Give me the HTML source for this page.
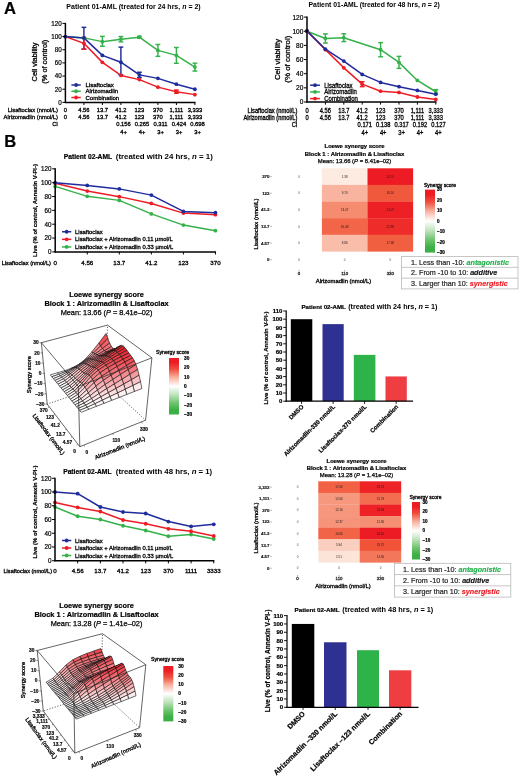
<!DOCTYPE html>
<html><head><meta charset="utf-8"><title>Figure</title><style>html,body{margin:0;padding:0;background:#fff}svg{display:block}</style></head><body>
<svg width="520" height="777" viewBox="0 0 520 777" font-family="'Liberation Sans', Arial, sans-serif">
<style>.tk{stroke:#000;stroke-width:0.22px}</style>
<rect width="520" height="777" fill="#fff"/>
<text x="4.00" y="14.30" font-size="16.6" text-anchor="start" font-weight="bold" font-style="normal" fill="#000" stroke="#000" stroke-width="0.21">A</text>
<text x="4.30" y="147.00" font-size="16.6" text-anchor="start" font-weight="bold" font-style="normal" fill="#000" stroke="#000" stroke-width="0.21">B</text>
<text x="133.50" y="8.50" font-size="7" text-anchor="middle" font-weight="bold">Patient 01-AML (treated for 24 hrs, <tspan font-style="italic">n</tspan> = 2)</text>
<polyline points="65.40,36.57 83.90,37.88 102.40,41.64 120.90,39.20 139.40,37.23 157.90,50.39 176.40,55.40 194.90,67.11" fill="none" stroke="#35b14a" stroke-width="1.5" stroke-linejoin="round"/>
<polyline points="65.40,36.57 83.90,43.35 102.40,62.37 120.90,75.41 139.40,79.62 157.90,87.13 176.40,91.67 194.90,94.63" fill="none" stroke="#ee1c25" stroke-width="1.5" stroke-linejoin="round"/>
<polyline points="65.40,36.57 83.90,37.88 102.40,55.40 120.90,62.24 139.40,74.88 157.90,78.37 176.40,84.16 194.90,89.23" fill="none" stroke="#1f2c9c" stroke-width="1.5" stroke-linejoin="round"/>
<line x1="102.40" y1="36.37" x2="102.40" y2="46.24" stroke="#35b14a" stroke-width="1.45"/>
<line x1="100.00" y1="36.37" x2="104.80" y2="36.37" stroke="#35b14a" stroke-width="1.45"/>
<line x1="100.00" y1="46.24" x2="104.80" y2="46.24" stroke="#35b14a" stroke-width="1.45"/>
<line x1="120.90" y1="36.57" x2="120.90" y2="41.83" stroke="#35b14a" stroke-width="1.45"/>
<line x1="118.50" y1="36.57" x2="123.30" y2="36.57" stroke="#35b14a" stroke-width="1.45"/>
<line x1="118.50" y1="41.83" x2="123.30" y2="41.83" stroke="#35b14a" stroke-width="1.45"/>
<line x1="139.40" y1="36.24" x2="139.40" y2="38.21" stroke="#35b14a" stroke-width="1.45"/>
<line x1="137.00" y1="36.24" x2="141.80" y2="36.24" stroke="#35b14a" stroke-width="1.45"/>
<line x1="137.00" y1="38.21" x2="141.80" y2="38.21" stroke="#35b14a" stroke-width="1.45"/>
<line x1="157.90" y1="44.47" x2="157.90" y2="56.32" stroke="#35b14a" stroke-width="1.45"/>
<line x1="155.50" y1="44.47" x2="160.30" y2="44.47" stroke="#35b14a" stroke-width="1.45"/>
<line x1="155.50" y1="56.32" x2="160.30" y2="56.32" stroke="#35b14a" stroke-width="1.45"/>
<line x1="176.40" y1="47.50" x2="176.40" y2="63.30" stroke="#35b14a" stroke-width="1.45"/>
<line x1="174.00" y1="47.50" x2="178.80" y2="47.50" stroke="#35b14a" stroke-width="1.45"/>
<line x1="174.00" y1="63.30" x2="178.80" y2="63.30" stroke="#35b14a" stroke-width="1.45"/>
<line x1="194.90" y1="63.16" x2="194.90" y2="71.06" stroke="#35b14a" stroke-width="1.45"/>
<line x1="192.50" y1="63.16" x2="197.30" y2="63.16" stroke="#35b14a" stroke-width="1.45"/>
<line x1="192.50" y1="71.06" x2="197.30" y2="71.06" stroke="#35b14a" stroke-width="1.45"/>
<line x1="83.90" y1="27.35" x2="83.90" y2="49.08" stroke="#1f2c9c" stroke-width="1.45"/>
<line x1="81.50" y1="27.35" x2="86.30" y2="27.35" stroke="#1f2c9c" stroke-width="1.45"/>
<line x1="81.50" y1="49.08" x2="86.30" y2="49.08" stroke="#1f2c9c" stroke-width="1.45"/>
<line x1="120.90" y1="47.10" x2="120.90" y2="74.75" stroke="#1f2c9c" stroke-width="1.45"/>
<line x1="118.50" y1="47.10" x2="123.30" y2="47.10" stroke="#1f2c9c" stroke-width="1.45"/>
<line x1="118.50" y1="74.75" x2="123.30" y2="74.75" stroke="#1f2c9c" stroke-width="1.45"/>
<line x1="139.40" y1="72.25" x2="139.40" y2="77.52" stroke="#1f2c9c" stroke-width="1.45"/>
<line x1="137.00" y1="72.25" x2="141.80" y2="72.25" stroke="#1f2c9c" stroke-width="1.45"/>
<line x1="137.00" y1="77.52" x2="141.80" y2="77.52" stroke="#1f2c9c" stroke-width="1.45"/>
<line x1="83.90" y1="37.42" x2="83.90" y2="49.27" stroke="#ee1c25" stroke-width="1.45"/>
<line x1="81.50" y1="37.42" x2="86.30" y2="37.42" stroke="#ee1c25" stroke-width="1.45"/>
<line x1="81.50" y1="49.27" x2="86.30" y2="49.27" stroke="#ee1c25" stroke-width="1.45"/>
<line x1="176.40" y1="90.02" x2="176.40" y2="93.31" stroke="#ee1c25" stroke-width="1.45"/>
<line x1="174.00" y1="90.02" x2="178.80" y2="90.02" stroke="#ee1c25" stroke-width="1.45"/>
<line x1="174.00" y1="93.31" x2="178.80" y2="93.31" stroke="#ee1c25" stroke-width="1.45"/>
<circle cx="65.40" cy="36.57" r="1.9" fill="#35b14a"/>
<circle cx="83.90" cy="37.88" r="1.9" fill="#35b14a"/>
<circle cx="102.40" cy="41.64" r="1.9" fill="#35b14a"/>
<circle cx="120.90" cy="39.20" r="1.9" fill="#35b14a"/>
<circle cx="139.40" cy="37.23" r="1.9" fill="#35b14a"/>
<circle cx="157.90" cy="50.39" r="1.9" fill="#35b14a"/>
<circle cx="176.40" cy="55.40" r="1.9" fill="#35b14a"/>
<circle cx="194.90" cy="67.11" r="1.9" fill="#35b14a"/>
<circle cx="65.40" cy="36.57" r="1.9" fill="#ee1c25"/>
<circle cx="83.90" cy="43.35" r="1.9" fill="#ee1c25"/>
<circle cx="102.40" cy="62.37" r="1.9" fill="#ee1c25"/>
<circle cx="120.90" cy="75.41" r="1.9" fill="#ee1c25"/>
<circle cx="139.40" cy="79.62" r="1.9" fill="#ee1c25"/>
<circle cx="157.90" cy="87.13" r="1.9" fill="#ee1c25"/>
<circle cx="176.40" cy="91.67" r="1.9" fill="#ee1c25"/>
<circle cx="194.90" cy="94.63" r="1.9" fill="#ee1c25"/>
<circle cx="65.40" cy="36.57" r="1.9" fill="#1f2c9c"/>
<circle cx="83.90" cy="37.88" r="1.9" fill="#1f2c9c"/>
<circle cx="102.40" cy="55.40" r="1.9" fill="#1f2c9c"/>
<circle cx="120.90" cy="62.24" r="1.9" fill="#1f2c9c"/>
<circle cx="139.40" cy="74.88" r="1.9" fill="#1f2c9c"/>
<circle cx="157.90" cy="78.37" r="1.9" fill="#1f2c9c"/>
<circle cx="176.40" cy="84.16" r="1.9" fill="#1f2c9c"/>
<circle cx="194.90" cy="89.23" r="1.9" fill="#1f2c9c"/>
<line x1="65.40" y1="22.90" x2="65.40" y2="103.00" stroke="#000" stroke-width="1.5"/>
<line x1="64.80" y1="102.40" x2="195.50" y2="102.40" stroke="#000" stroke-width="1.5"/>
<line x1="62.40" y1="102.40" x2="65.40" y2="102.40" stroke="#000" stroke-width="1.0"/>
<text transform="translate(61.80 104.74) scale(0.9 1)" font-size="7.0" text-anchor="end" font-weight="normal" font-style="normal" fill="#000" class="tk">0</text>
<line x1="62.40" y1="89.23" x2="65.40" y2="89.23" stroke="#000" stroke-width="1.0"/>
<text transform="translate(61.80 91.57) scale(0.9 1)" font-size="7.0" text-anchor="end" font-weight="normal" font-style="normal" fill="#000" class="tk">20</text>
<line x1="62.40" y1="76.07" x2="65.40" y2="76.07" stroke="#000" stroke-width="1.0"/>
<text transform="translate(61.80 78.41) scale(0.9 1)" font-size="7.0" text-anchor="end" font-weight="normal" font-style="normal" fill="#000" class="tk">40</text>
<line x1="62.40" y1="62.90" x2="65.40" y2="62.90" stroke="#000" stroke-width="1.0"/>
<text transform="translate(61.80 65.24) scale(0.9 1)" font-size="7.0" text-anchor="end" font-weight="normal" font-style="normal" fill="#000" class="tk">60</text>
<line x1="62.40" y1="49.73" x2="65.40" y2="49.73" stroke="#000" stroke-width="1.0"/>
<text transform="translate(61.80 52.07) scale(0.9 1)" font-size="7.0" text-anchor="end" font-weight="normal" font-style="normal" fill="#000" class="tk">80</text>
<line x1="62.40" y1="36.57" x2="65.40" y2="36.57" stroke="#000" stroke-width="1.0"/>
<text transform="translate(61.80 38.91) scale(0.9 1)" font-size="7.0" text-anchor="end" font-weight="normal" font-style="normal" fill="#000" class="tk">100</text>
<line x1="62.40" y1="23.40" x2="65.40" y2="23.40" stroke="#000" stroke-width="1.0"/>
<text transform="translate(61.80 25.74) scale(0.9 1)" font-size="7.0" text-anchor="end" font-weight="normal" font-style="normal" fill="#000" class="tk">120</text>
<line x1="83.90" y1="102.40" x2="83.90" y2="105.00" stroke="#000" stroke-width="1.0"/>
<line x1="102.40" y1="102.40" x2="102.40" y2="105.00" stroke="#000" stroke-width="1.0"/>
<line x1="120.90" y1="102.40" x2="120.90" y2="105.00" stroke="#000" stroke-width="1.0"/>
<line x1="139.40" y1="102.40" x2="139.40" y2="105.00" stroke="#000" stroke-width="1.0"/>
<line x1="157.90" y1="102.40" x2="157.90" y2="105.00" stroke="#000" stroke-width="1.0"/>
<line x1="176.40" y1="102.40" x2="176.40" y2="105.00" stroke="#000" stroke-width="1.0"/>
<line x1="194.90" y1="102.40" x2="194.90" y2="105.00" stroke="#000" stroke-width="1.0"/>
<text x="37.40" y="62.00" font-size="7.35" text-anchor="middle" font-weight="normal" font-style="normal" fill="#000" transform="rotate(-90 37.40 62.00)" stroke="#000" stroke-width="0.30">Cell viability</text>
<text x="46.90" y="61.70" font-size="7.4" text-anchor="middle" font-weight="normal" font-style="normal" fill="#000" transform="rotate(-90 46.90 61.70)" stroke="#000" stroke-width="0.30">(% of control)</text>
<line x1="71.40" y1="85.00" x2="80.80" y2="85.00" stroke="#1f2c9c" stroke-width="1.5"/>
<circle cx="76.10" cy="85.00" r="1.9" fill="#1f2c9c"/>
<text x="85.50" y="87.16" font-size="6" text-anchor="start" font-weight="normal" font-style="normal" fill="#000" stroke="#000" stroke-width="0.30">Lisaftoclax</text>
<line x1="71.40" y1="91.25" x2="80.80" y2="91.25" stroke="#35b14a" stroke-width="1.5"/>
<circle cx="76.10" cy="91.25" r="1.9" fill="#35b14a"/>
<text x="85.50" y="93.41" font-size="6" text-anchor="start" font-weight="normal" font-style="normal" fill="#000" stroke="#000" stroke-width="0.30">Alrizomadlin</text>
<line x1="71.40" y1="97.50" x2="80.80" y2="97.50" stroke="#ee1c25" stroke-width="1.5"/>
<circle cx="76.10" cy="97.50" r="1.9" fill="#ee1c25"/>
<text x="85.50" y="99.66" font-size="6" text-anchor="start" font-weight="normal" font-style="normal" fill="#000" stroke="#000" stroke-width="0.30">Combination</text>
<text x="58.00" y="111.80" font-size="5.8" text-anchor="end" font-weight="normal" font-style="normal" fill="#000" stroke="#000" stroke-width="0.30">Lisaftoclax (nmol/L)</text>
<text x="58.00" y="119.00" font-size="5.8" text-anchor="end" font-weight="normal" font-style="normal" fill="#000" stroke="#000" stroke-width="0.30">Alrizomadlin (nmol/L)</text>
<text x="58.00" y="126.20" font-size="5.8" text-anchor="end" font-weight="normal" font-style="normal" fill="#000" stroke="#000" stroke-width="0.30">CI</text>
<text x="65.40" y="111.80" font-size="5.8" text-anchor="middle" font-weight="normal" font-style="normal" fill="#000" stroke="#000" stroke-width="0.30">0</text>
<text x="65.40" y="119.00" font-size="5.8" text-anchor="middle" font-weight="normal" font-style="normal" fill="#000" stroke="#000" stroke-width="0.30">0</text>
<text x="83.90" y="111.80" font-size="5.8" text-anchor="middle" font-weight="normal" font-style="normal" fill="#000" stroke="#000" stroke-width="0.30">4.56</text>
<text x="83.90" y="119.00" font-size="5.8" text-anchor="middle" font-weight="normal" font-style="normal" fill="#000" stroke="#000" stroke-width="0.30">4.56</text>
<text x="102.40" y="111.80" font-size="5.8" text-anchor="middle" font-weight="normal" font-style="normal" fill="#000" stroke="#000" stroke-width="0.30">13.7</text>
<text x="102.40" y="119.00" font-size="5.8" text-anchor="middle" font-weight="normal" font-style="normal" fill="#000" stroke="#000" stroke-width="0.30">13.7</text>
<text x="120.90" y="111.80" font-size="5.8" text-anchor="middle" font-weight="normal" font-style="normal" fill="#000" stroke="#000" stroke-width="0.30">41.2</text>
<text x="120.90" y="119.00" font-size="5.8" text-anchor="middle" font-weight="normal" font-style="normal" fill="#000" stroke="#000" stroke-width="0.30">41.2</text>
<text x="139.40" y="111.80" font-size="5.8" text-anchor="middle" font-weight="normal" font-style="normal" fill="#000" stroke="#000" stroke-width="0.30">123</text>
<text x="139.40" y="119.00" font-size="5.8" text-anchor="middle" font-weight="normal" font-style="normal" fill="#000" stroke="#000" stroke-width="0.30">123</text>
<text x="157.90" y="111.80" font-size="5.8" text-anchor="middle" font-weight="normal" font-style="normal" fill="#000" stroke="#000" stroke-width="0.30">370</text>
<text x="157.90" y="119.00" font-size="5.8" text-anchor="middle" font-weight="normal" font-style="normal" fill="#000" stroke="#000" stroke-width="0.30">370</text>
<text x="176.40" y="111.80" font-size="5.8" text-anchor="middle" font-weight="normal" font-style="normal" fill="#000" stroke="#000" stroke-width="0.30">1,111</text>
<text x="176.40" y="119.00" font-size="5.8" text-anchor="middle" font-weight="normal" font-style="normal" fill="#000" stroke="#000" stroke-width="0.30">1,111</text>
<text x="194.90" y="111.80" font-size="5.8" text-anchor="middle" font-weight="normal" font-style="normal" fill="#000" stroke="#000" stroke-width="0.30">3,333</text>
<text x="194.90" y="119.00" font-size="5.8" text-anchor="middle" font-weight="normal" font-style="normal" fill="#000" stroke="#000" stroke-width="0.30">3,333</text>
<text x="123.50" y="126.20" font-size="5.8" text-anchor="middle" font-weight="normal" font-style="normal" fill="#000" stroke="#000" stroke-width="0.30">0.156</text>
<text x="123.50" y="133.60" font-size="5.8" text-anchor="middle" font-weight="normal" font-style="normal" fill="#000" stroke="#000" stroke-width="0.30">4+</text>
<text x="142.00" y="126.20" font-size="5.8" text-anchor="middle" font-weight="normal" font-style="normal" fill="#000" stroke="#000" stroke-width="0.30">0.265</text>
<text x="142.00" y="133.60" font-size="5.8" text-anchor="middle" font-weight="normal" font-style="normal" fill="#000" stroke="#000" stroke-width="0.30">4+</text>
<text x="160.50" y="126.20" font-size="5.8" text-anchor="middle" font-weight="normal" font-style="normal" fill="#000" stroke="#000" stroke-width="0.30">0.311</text>
<text x="160.50" y="133.60" font-size="5.8" text-anchor="middle" font-weight="normal" font-style="normal" fill="#000" stroke="#000" stroke-width="0.30">3+</text>
<text x="179.00" y="126.20" font-size="5.8" text-anchor="middle" font-weight="normal" font-style="normal" fill="#000" stroke="#000" stroke-width="0.30">0.424</text>
<text x="179.00" y="133.60" font-size="5.8" text-anchor="middle" font-weight="normal" font-style="normal" fill="#000" stroke="#000" stroke-width="0.30">3+</text>
<text x="197.50" y="126.20" font-size="5.8" text-anchor="middle" font-weight="normal" font-style="normal" fill="#000" stroke="#000" stroke-width="0.30">0.698</text>
<text x="197.50" y="133.60" font-size="5.8" text-anchor="middle" font-weight="normal" font-style="normal" fill="#000" stroke="#000" stroke-width="0.30">3+</text>
<text x="374.20" y="7.00" font-size="6.85" text-anchor="middle" font-weight="bold">Patient 01-AML (treated for 48 hrs, <tspan font-style="italic">n</tspan> = 2)</text>
<polyline points="307.00,31.25 325.40,38.47 343.80,37.69 380.60,49.72 399.00,62.38 417.40,80.42 435.80,91.74" fill="none" stroke="#35b14a" stroke-width="1.5" stroke-linejoin="round"/>
<polyline points="307.00,31.25 325.40,49.64 343.80,67.83 362.20,84.17 380.60,91.18 399.00,92.45 417.40,96.98 435.80,99.52" fill="none" stroke="#ee1c25" stroke-width="1.5" stroke-linejoin="round"/>
<polyline points="307.00,30.90 325.40,49.22 343.80,61.04 362.20,74.41 380.60,82.40 399.00,86.65 417.40,90.47 435.80,94.22" fill="none" stroke="#1f2c9c" stroke-width="1.5" stroke-linejoin="round"/>
<line x1="325.40" y1="33.87" x2="325.40" y2="43.07" stroke="#35b14a" stroke-width="1.45"/>
<line x1="323.00" y1="33.87" x2="327.80" y2="33.87" stroke="#35b14a" stroke-width="1.45"/>
<line x1="323.00" y1="43.07" x2="327.80" y2="43.07" stroke="#35b14a" stroke-width="1.45"/>
<line x1="343.80" y1="33.80" x2="343.80" y2="41.58" stroke="#35b14a" stroke-width="1.45"/>
<line x1="341.40" y1="33.80" x2="346.20" y2="33.80" stroke="#35b14a" stroke-width="1.45"/>
<line x1="341.40" y1="41.58" x2="346.20" y2="41.58" stroke="#35b14a" stroke-width="1.45"/>
<line x1="380.60" y1="42.64" x2="380.60" y2="56.79" stroke="#35b14a" stroke-width="1.45"/>
<line x1="378.20" y1="42.64" x2="383.00" y2="42.64" stroke="#35b14a" stroke-width="1.45"/>
<line x1="378.20" y1="56.79" x2="383.00" y2="56.79" stroke="#35b14a" stroke-width="1.45"/>
<line x1="399.00" y1="56.37" x2="399.00" y2="68.39" stroke="#35b14a" stroke-width="1.45"/>
<line x1="396.60" y1="56.37" x2="401.40" y2="56.37" stroke="#35b14a" stroke-width="1.45"/>
<line x1="396.60" y1="68.39" x2="401.40" y2="68.39" stroke="#35b14a" stroke-width="1.45"/>
<line x1="435.80" y1="89.62" x2="435.80" y2="93.86" stroke="#35b14a" stroke-width="1.45"/>
<line x1="433.40" y1="89.62" x2="438.20" y2="89.62" stroke="#35b14a" stroke-width="1.45"/>
<line x1="433.40" y1="93.86" x2="438.20" y2="93.86" stroke="#35b14a" stroke-width="1.45"/>
<line x1="362.20" y1="81.69" x2="362.20" y2="86.65" stroke="#ee1c25" stroke-width="1.45"/>
<line x1="359.80" y1="81.69" x2="364.60" y2="81.69" stroke="#ee1c25" stroke-width="1.45"/>
<line x1="359.80" y1="86.65" x2="364.60" y2="86.65" stroke="#ee1c25" stroke-width="1.45"/>
<circle cx="307.00" cy="31.25" r="1.9" fill="#35b14a"/>
<circle cx="325.40" cy="38.47" r="1.9" fill="#35b14a"/>
<circle cx="343.80" cy="37.69" r="1.9" fill="#35b14a"/>
<circle cx="380.60" cy="49.72" r="1.9" fill="#35b14a"/>
<circle cx="399.00" cy="62.38" r="1.9" fill="#35b14a"/>
<circle cx="417.40" cy="80.42" r="1.9" fill="#35b14a"/>
<circle cx="435.80" cy="91.74" r="1.9" fill="#35b14a"/>
<circle cx="307.00" cy="31.25" r="1.9" fill="#ee1c25"/>
<circle cx="325.40" cy="49.64" r="1.9" fill="#ee1c25"/>
<circle cx="343.80" cy="67.83" r="1.9" fill="#ee1c25"/>
<circle cx="362.20" cy="84.17" r="1.9" fill="#ee1c25"/>
<circle cx="380.60" cy="91.18" r="1.9" fill="#ee1c25"/>
<circle cx="399.00" cy="92.45" r="1.9" fill="#ee1c25"/>
<circle cx="417.40" cy="96.98" r="1.9" fill="#ee1c25"/>
<circle cx="435.80" cy="99.52" r="1.9" fill="#ee1c25"/>
<circle cx="307.00" cy="30.90" r="1.9" fill="#1f2c9c"/>
<circle cx="325.40" cy="49.22" r="1.9" fill="#1f2c9c"/>
<circle cx="343.80" cy="61.04" r="1.9" fill="#1f2c9c"/>
<circle cx="362.20" cy="74.41" r="1.9" fill="#1f2c9c"/>
<circle cx="380.60" cy="82.40" r="1.9" fill="#1f2c9c"/>
<circle cx="399.00" cy="86.65" r="1.9" fill="#1f2c9c"/>
<circle cx="417.40" cy="90.47" r="1.9" fill="#1f2c9c"/>
<circle cx="435.80" cy="94.22" r="1.9" fill="#1f2c9c"/>
<line x1="307.00" y1="16.60" x2="307.00" y2="102.60" stroke="#000" stroke-width="1.5"/>
<line x1="306.40" y1="102.00" x2="436.40" y2="102.00" stroke="#000" stroke-width="1.5"/>
<line x1="304.00" y1="102.00" x2="307.00" y2="102.00" stroke="#000" stroke-width="1.0"/>
<text transform="translate(303.40 104.45) scale(0.9 1)" font-size="7.3" text-anchor="end" font-weight="normal" font-style="normal" fill="#000" class="tk">0</text>
<line x1="304.00" y1="87.85" x2="307.00" y2="87.85" stroke="#000" stroke-width="1.0"/>
<text transform="translate(303.40 90.30) scale(0.9 1)" font-size="7.3" text-anchor="end" font-weight="normal" font-style="normal" fill="#000" class="tk">20</text>
<line x1="304.00" y1="73.70" x2="307.00" y2="73.70" stroke="#000" stroke-width="1.0"/>
<text transform="translate(303.40 76.15) scale(0.9 1)" font-size="7.3" text-anchor="end" font-weight="normal" font-style="normal" fill="#000" class="tk">40</text>
<line x1="304.00" y1="59.55" x2="307.00" y2="59.55" stroke="#000" stroke-width="1.0"/>
<text transform="translate(303.40 62.00) scale(0.9 1)" font-size="7.3" text-anchor="end" font-weight="normal" font-style="normal" fill="#000" class="tk">60</text>
<line x1="304.00" y1="45.40" x2="307.00" y2="45.40" stroke="#000" stroke-width="1.0"/>
<text transform="translate(303.40 47.85) scale(0.9 1)" font-size="7.3" text-anchor="end" font-weight="normal" font-style="normal" fill="#000" class="tk">80</text>
<line x1="304.00" y1="31.25" x2="307.00" y2="31.25" stroke="#000" stroke-width="1.0"/>
<text transform="translate(303.40 33.70) scale(0.9 1)" font-size="7.3" text-anchor="end" font-weight="normal" font-style="normal" fill="#000" class="tk">100</text>
<line x1="304.00" y1="17.10" x2="307.00" y2="17.10" stroke="#000" stroke-width="1.0"/>
<text transform="translate(303.40 19.55) scale(0.9 1)" font-size="7.3" text-anchor="end" font-weight="normal" font-style="normal" fill="#000" class="tk">120</text>
<line x1="325.40" y1="102.00" x2="325.40" y2="104.60" stroke="#000" stroke-width="1.0"/>
<line x1="343.80" y1="102.00" x2="343.80" y2="104.60" stroke="#000" stroke-width="1.0"/>
<line x1="362.20" y1="102.00" x2="362.20" y2="104.60" stroke="#000" stroke-width="1.0"/>
<line x1="380.60" y1="102.00" x2="380.60" y2="104.60" stroke="#000" stroke-width="1.0"/>
<line x1="399.00" y1="102.00" x2="399.00" y2="104.60" stroke="#000" stroke-width="1.0"/>
<line x1="417.40" y1="102.00" x2="417.40" y2="104.60" stroke="#000" stroke-width="1.0"/>
<line x1="435.80" y1="102.00" x2="435.80" y2="104.60" stroke="#000" stroke-width="1.0"/>
<text x="280.00" y="59.50" font-size="7.8" text-anchor="middle" font-weight="normal" font-style="normal" fill="#000" transform="rotate(-90 280.00 59.50)" stroke="#000" stroke-width="0.30">Cell viability</text>
<text x="289.90" y="59.20" font-size="7.9" text-anchor="middle" font-weight="normal" font-style="normal" fill="#000" transform="rotate(-90 289.90 59.20)" stroke="#000" stroke-width="0.30">(% of control)</text>
<line x1="310.10" y1="85.20" x2="319.90" y2="85.20" stroke="#1f2c9c" stroke-width="1.5"/>
<circle cx="315.00" cy="85.20" r="1.9" fill="#1f2c9c"/>
<text transform="translate(324.20 87.72) scale(0.86 1)" font-size="7.0" text-anchor="start" font-weight="normal" font-style="normal" fill="#000" stroke="#000" stroke-width="0.30">Lisaftoclax</text>
<line x1="310.10" y1="91.90" x2="319.90" y2="91.90" stroke="#35b14a" stroke-width="1.5"/>
<circle cx="315.00" cy="91.90" r="1.9" fill="#35b14a"/>
<text transform="translate(324.20 94.42) scale(0.86 1)" font-size="7.0" text-anchor="start" font-weight="normal" font-style="normal" fill="#000" stroke="#000" stroke-width="0.30">Alrizomadlin</text>
<line x1="310.10" y1="98.60" x2="319.90" y2="98.60" stroke="#ee1c25" stroke-width="1.5"/>
<circle cx="315.00" cy="98.60" r="1.9" fill="#ee1c25"/>
<text transform="translate(324.20 101.12) scale(0.86 1)" font-size="7.0" text-anchor="start" font-weight="normal" font-style="normal" fill="#000" stroke="#000" stroke-width="0.30">Combination</text>
<text transform="translate(297.40 112.90) scale(0.9 1)" font-size="6.4" text-anchor="end" font-weight="normal" font-style="normal" fill="#000" stroke="#000" stroke-width="0.30">Lisaftoclax (nmol/L)</text>
<text transform="translate(297.40 120.20) scale(0.9 1)" font-size="6.4" text-anchor="end" font-weight="normal" font-style="normal" fill="#000" stroke="#000" stroke-width="0.30">Alrizomadlin (nmol/L)</text>
<text transform="translate(297.40 127.40) scale(0.9 1)" font-size="6.4" text-anchor="end" font-weight="normal" font-style="normal" fill="#000" stroke="#000" stroke-width="0.30">CI</text>
<text transform="translate(307.00 112.90) scale(0.9 1)" font-size="6.4" text-anchor="middle" font-weight="normal" font-style="normal" fill="#000" stroke="#000" stroke-width="0.30">0</text>
<text transform="translate(307.00 120.20) scale(0.9 1)" font-size="6.4" text-anchor="middle" font-weight="normal" font-style="normal" fill="#000" stroke="#000" stroke-width="0.30">0</text>
<text transform="translate(325.40 112.90) scale(0.9 1)" font-size="6.4" text-anchor="middle" font-weight="normal" font-style="normal" fill="#000" stroke="#000" stroke-width="0.30">4.56</text>
<text transform="translate(325.40 120.20) scale(0.9 1)" font-size="6.4" text-anchor="middle" font-weight="normal" font-style="normal" fill="#000" stroke="#000" stroke-width="0.30">4.56</text>
<text transform="translate(343.80 112.90) scale(0.9 1)" font-size="6.4" text-anchor="middle" font-weight="normal" font-style="normal" fill="#000" stroke="#000" stroke-width="0.30">13.7</text>
<text transform="translate(343.80 120.20) scale(0.9 1)" font-size="6.4" text-anchor="middle" font-weight="normal" font-style="normal" fill="#000" stroke="#000" stroke-width="0.30">13.7</text>
<text transform="translate(362.20 112.90) scale(0.9 1)" font-size="6.4" text-anchor="middle" font-weight="normal" font-style="normal" fill="#000" stroke="#000" stroke-width="0.30">41.2</text>
<text transform="translate(362.20 120.20) scale(0.9 1)" font-size="6.4" text-anchor="middle" font-weight="normal" font-style="normal" fill="#000" stroke="#000" stroke-width="0.30">41.2</text>
<text transform="translate(380.60 112.90) scale(0.9 1)" font-size="6.4" text-anchor="middle" font-weight="normal" font-style="normal" fill="#000" stroke="#000" stroke-width="0.30">123</text>
<text transform="translate(380.60 120.20) scale(0.9 1)" font-size="6.4" text-anchor="middle" font-weight="normal" font-style="normal" fill="#000" stroke="#000" stroke-width="0.30">123</text>
<text transform="translate(399.00 112.90) scale(0.9 1)" font-size="6.4" text-anchor="middle" font-weight="normal" font-style="normal" fill="#000" stroke="#000" stroke-width="0.30">370</text>
<text transform="translate(399.00 120.20) scale(0.9 1)" font-size="6.4" text-anchor="middle" font-weight="normal" font-style="normal" fill="#000" stroke="#000" stroke-width="0.30">370</text>
<text transform="translate(417.40 112.90) scale(0.9 1)" font-size="6.4" text-anchor="middle" font-weight="normal" font-style="normal" fill="#000" stroke="#000" stroke-width="0.30">1,111</text>
<text transform="translate(417.40 120.20) scale(0.9 1)" font-size="6.4" text-anchor="middle" font-weight="normal" font-style="normal" fill="#000" stroke="#000" stroke-width="0.30">1,111</text>
<text transform="translate(435.80 112.90) scale(0.9 1)" font-size="6.4" text-anchor="middle" font-weight="normal" font-style="normal" fill="#000" stroke="#000" stroke-width="0.30">3,333</text>
<text transform="translate(435.80 120.20) scale(0.9 1)" font-size="6.4" text-anchor="middle" font-weight="normal" font-style="normal" fill="#000" stroke="#000" stroke-width="0.30">3,333</text>
<text transform="translate(364.80 127.40) scale(0.9 1)" font-size="6.4" text-anchor="middle" font-weight="normal" font-style="normal" fill="#000" stroke="#000" stroke-width="0.30">0.171</text>
<text transform="translate(364.80 134.80) scale(0.9 1)" font-size="6.4" text-anchor="middle" font-weight="normal" font-style="normal" fill="#000" stroke="#000" stroke-width="0.30">4+</text>
<text transform="translate(383.20 127.40) scale(0.9 1)" font-size="6.4" text-anchor="middle" font-weight="normal" font-style="normal" fill="#000" stroke="#000" stroke-width="0.30">0.138</text>
<text transform="translate(383.20 134.80) scale(0.9 1)" font-size="6.4" text-anchor="middle" font-weight="normal" font-style="normal" fill="#000" stroke="#000" stroke-width="0.30">4+</text>
<text transform="translate(401.60 127.40) scale(0.9 1)" font-size="6.4" text-anchor="middle" font-weight="normal" font-style="normal" fill="#000" stroke="#000" stroke-width="0.30">0.317</text>
<text transform="translate(401.60 134.80) scale(0.9 1)" font-size="6.4" text-anchor="middle" font-weight="normal" font-style="normal" fill="#000" stroke="#000" stroke-width="0.30">3+</text>
<text transform="translate(420.00 127.40) scale(0.9 1)" font-size="6.4" text-anchor="middle" font-weight="normal" font-style="normal" fill="#000" stroke="#000" stroke-width="0.30">0.192</text>
<text transform="translate(420.00 134.80) scale(0.9 1)" font-size="6.4" text-anchor="middle" font-weight="normal" font-style="normal" fill="#000" stroke="#000" stroke-width="0.30">4+</text>
<text transform="translate(438.40 127.40) scale(0.9 1)" font-size="6.4" text-anchor="middle" font-weight="normal" font-style="normal" fill="#000" stroke="#000" stroke-width="0.30">0.127</text>
<text transform="translate(438.40 134.80) scale(0.9 1)" font-size="6.4" text-anchor="middle" font-weight="normal" font-style="normal" fill="#000" stroke="#000" stroke-width="0.30">4+</text>
<text x="63.80" y="159.10" font-size="6.7" text-anchor="start" font-weight="bold" font-style="normal" fill="#000" stroke="#000" stroke-width="0.21">Patient 02-AML</text>
<text x="115.80" y="159.10" font-weight="bold" font-size="7.85">(treated with 24 hrs, <tspan font-style="italic">n</tspan> = 1)</text>
<polyline points="55.20,186.39 87.25,196.36 119.30,200.38 151.35,213.88 183.40,225.10 215.45,230.64" fill="none" stroke="#35b14a" stroke-width="1.5" stroke-linejoin="round"/>
<polyline points="55.20,183.34 87.25,191.10 119.30,196.64 151.35,203.43 183.40,213.12 215.45,214.64" fill="none" stroke="#ee1c25" stroke-width="1.5" stroke-linejoin="round"/>
<polyline points="55.20,182.65 87.25,185.42 119.30,188.88 151.35,195.12 183.40,211.39 215.45,212.64" fill="none" stroke="#1f2c9c" stroke-width="1.5" stroke-linejoin="round"/>
<circle cx="55.20" cy="186.39" r="1.9" fill="#35b14a"/>
<circle cx="87.25" cy="196.36" r="1.9" fill="#35b14a"/>
<circle cx="119.30" cy="200.38" r="1.9" fill="#35b14a"/>
<circle cx="151.35" cy="213.88" r="1.9" fill="#35b14a"/>
<circle cx="183.40" cy="225.10" r="1.9" fill="#35b14a"/>
<circle cx="215.45" cy="230.64" r="1.9" fill="#35b14a"/>
<circle cx="55.20" cy="183.34" r="1.9" fill="#ee1c25"/>
<circle cx="87.25" cy="191.10" r="1.9" fill="#ee1c25"/>
<circle cx="119.30" cy="196.64" r="1.9" fill="#ee1c25"/>
<circle cx="151.35" cy="203.43" r="1.9" fill="#ee1c25"/>
<circle cx="183.40" cy="213.12" r="1.9" fill="#ee1c25"/>
<circle cx="215.45" cy="214.64" r="1.9" fill="#ee1c25"/>
<circle cx="55.20" cy="182.65" r="1.9" fill="#1f2c9c"/>
<circle cx="87.25" cy="185.42" r="1.9" fill="#1f2c9c"/>
<circle cx="119.30" cy="188.88" r="1.9" fill="#1f2c9c"/>
<circle cx="151.35" cy="195.12" r="1.9" fill="#1f2c9c"/>
<circle cx="183.40" cy="211.39" r="1.9" fill="#1f2c9c"/>
<circle cx="215.45" cy="212.64" r="1.9" fill="#1f2c9c"/>
<line x1="55.20" y1="168.30" x2="55.20" y2="252.50" stroke="#000" stroke-width="1.5"/>
<line x1="54.60" y1="251.90" x2="216.05" y2="251.90" stroke="#000" stroke-width="1.5"/>
<line x1="52.20" y1="251.90" x2="55.20" y2="251.90" stroke="#000" stroke-width="1.0"/>
<text transform="translate(51.60 254.24) scale(0.9 1)" font-size="7.0" text-anchor="end" font-weight="normal" font-style="normal" fill="#000" class="tk">0</text>
<line x1="52.20" y1="238.05" x2="55.20" y2="238.05" stroke="#000" stroke-width="1.0"/>
<text transform="translate(51.60 240.39) scale(0.9 1)" font-size="7.0" text-anchor="end" font-weight="normal" font-style="normal" fill="#000" class="tk">20</text>
<line x1="52.20" y1="224.20" x2="55.20" y2="224.20" stroke="#000" stroke-width="1.0"/>
<text transform="translate(51.60 226.54) scale(0.9 1)" font-size="7.0" text-anchor="end" font-weight="normal" font-style="normal" fill="#000" class="tk">40</text>
<line x1="52.20" y1="210.35" x2="55.20" y2="210.35" stroke="#000" stroke-width="1.0"/>
<text transform="translate(51.60 212.69) scale(0.9 1)" font-size="7.0" text-anchor="end" font-weight="normal" font-style="normal" fill="#000" class="tk">60</text>
<line x1="52.20" y1="196.50" x2="55.20" y2="196.50" stroke="#000" stroke-width="1.0"/>
<text transform="translate(51.60 198.84) scale(0.9 1)" font-size="7.0" text-anchor="end" font-weight="normal" font-style="normal" fill="#000" class="tk">80</text>
<line x1="52.20" y1="182.65" x2="55.20" y2="182.65" stroke="#000" stroke-width="1.0"/>
<text transform="translate(51.60 184.99) scale(0.9 1)" font-size="7.0" text-anchor="end" font-weight="normal" font-style="normal" fill="#000" class="tk">100</text>
<line x1="52.20" y1="168.80" x2="55.20" y2="168.80" stroke="#000" stroke-width="1.0"/>
<text transform="translate(51.60 171.14) scale(0.9 1)" font-size="7.0" text-anchor="end" font-weight="normal" font-style="normal" fill="#000" class="tk">120</text>
<line x1="87.25" y1="251.90" x2="87.25" y2="254.50" stroke="#000" stroke-width="1.0"/>
<line x1="119.30" y1="251.90" x2="119.30" y2="254.50" stroke="#000" stroke-width="1.0"/>
<line x1="151.35" y1="251.90" x2="151.35" y2="254.50" stroke="#000" stroke-width="1.0"/>
<line x1="183.40" y1="251.90" x2="183.40" y2="254.50" stroke="#000" stroke-width="1.0"/>
<line x1="215.45" y1="251.90" x2="215.45" y2="254.50" stroke="#000" stroke-width="1.0"/>
<text x="36.60" y="210.50" font-size="5.93" text-anchor="middle" font-weight="bold" font-style="normal" fill="#000" transform="rotate(-90 36.60 210.50)" stroke="#000" stroke-width="0.21">Live  (% of control, Annexin V-PI-)</text>
<line x1="62.00" y1="231.75" x2="71.30" y2="231.75" stroke="#1f2c9c" stroke-width="1.5"/>
<circle cx="66.65" cy="231.75" r="1.9" fill="#1f2c9c"/>
<text x="75.10" y="233.86" font-size="5.85" text-anchor="start" font-weight="normal" font-style="normal" fill="#000" stroke="#000" stroke-width="0.30">Lisaftoclax</text>
<line x1="62.00" y1="239.35" x2="71.30" y2="239.35" stroke="#ee1c25" stroke-width="1.5"/>
<circle cx="66.65" cy="239.35" r="1.9" fill="#ee1c25"/>
<text x="75.10" y="241.46" font-size="5.85" text-anchor="start" font-weight="normal" font-style="normal" fill="#000" stroke="#000" stroke-width="0.30">Lisaftoclax + Alrizomadlin 0.11 µmol/L</text>
<line x1="62.00" y1="246.95" x2="71.30" y2="246.95" stroke="#35b14a" stroke-width="1.5"/>
<circle cx="66.65" cy="246.95" r="1.9" fill="#35b14a"/>
<text x="75.10" y="249.06" font-size="5.85" text-anchor="start" font-weight="normal" font-style="normal" fill="#000" stroke="#000" stroke-width="0.30">Lisaftoclax + Alrizomadlin 0.33 µmol/L</text>
<text x="51.00" y="264.80" font-size="5.7" text-anchor="end" font-weight="normal" font-style="normal" fill="#000" stroke="#000" stroke-width="0.30">Lisaftoclax (nmol/L)</text>
<text x="55.20" y="264.90" font-size="6.2" text-anchor="middle" font-weight="normal" font-style="normal" fill="#000" stroke="#000" stroke-width="0.30">0</text>
<text x="87.25" y="264.90" font-size="6.2" text-anchor="middle" font-weight="normal" font-style="normal" fill="#000" stroke="#000" stroke-width="0.30">4.56</text>
<text x="119.30" y="264.90" font-size="6.2" text-anchor="middle" font-weight="normal" font-style="normal" fill="#000" stroke="#000" stroke-width="0.30">13.7</text>
<text x="151.35" y="264.90" font-size="6.2" text-anchor="middle" font-weight="normal" font-style="normal" fill="#000" stroke="#000" stroke-width="0.30">41.2</text>
<text x="183.40" y="264.90" font-size="6.2" text-anchor="middle" font-weight="normal" font-style="normal" fill="#000" stroke="#000" stroke-width="0.30">123</text>
<text x="215.45" y="264.90" font-size="6.2" text-anchor="middle" font-weight="normal" font-style="normal" fill="#000" stroke="#000" stroke-width="0.30">370</text>
<text x="63.20" y="473.80" font-size="6.7" text-anchor="start" font-weight="bold" font-style="normal" fill="#000" stroke="#000" stroke-width="0.21">Patient 02-AML</text>
<text x="115.80" y="473.80" font-weight="bold" font-size="7.8">(treated with 48 hrs, <tspan font-style="italic">n</tspan> = 1)</text>
<polyline points="55.00,506.99 77.68,516.27 100.36,519.50 123.04,525.76 145.72,530.50 168.40,536.27 191.08,534.49 213.76,539.02" fill="none" stroke="#35b14a" stroke-width="1.5" stroke-linejoin="round"/>
<polyline points="55.00,502.52 77.68,507.47 100.36,511.52 123.04,519.98 145.72,523.76 168.40,528.78 191.08,531.26 213.76,536.00" fill="none" stroke="#ee1c25" stroke-width="1.5" stroke-linejoin="round"/>
<polyline points="55.00,492.00 77.68,493.72 100.36,506.99 123.04,512.01 145.72,513.52 168.40,521.56 191.08,526.51 213.76,524.31" fill="none" stroke="#1f2c9c" stroke-width="1.5" stroke-linejoin="round"/>
<circle cx="55.00" cy="506.99" r="1.9" fill="#35b14a"/>
<circle cx="77.68" cy="516.27" r="1.9" fill="#35b14a"/>
<circle cx="100.36" cy="519.50" r="1.9" fill="#35b14a"/>
<circle cx="123.04" cy="525.76" r="1.9" fill="#35b14a"/>
<circle cx="145.72" cy="530.50" r="1.9" fill="#35b14a"/>
<circle cx="168.40" cy="536.27" r="1.9" fill="#35b14a"/>
<circle cx="191.08" cy="534.49" r="1.9" fill="#35b14a"/>
<circle cx="213.76" cy="539.02" r="1.9" fill="#35b14a"/>
<circle cx="55.00" cy="502.52" r="1.9" fill="#ee1c25"/>
<circle cx="77.68" cy="507.47" r="1.9" fill="#ee1c25"/>
<circle cx="100.36" cy="511.52" r="1.9" fill="#ee1c25"/>
<circle cx="123.04" cy="519.98" r="1.9" fill="#ee1c25"/>
<circle cx="145.72" cy="523.76" r="1.9" fill="#ee1c25"/>
<circle cx="168.40" cy="528.78" r="1.9" fill="#ee1c25"/>
<circle cx="191.08" cy="531.26" r="1.9" fill="#ee1c25"/>
<circle cx="213.76" cy="536.00" r="1.9" fill="#ee1c25"/>
<circle cx="55.00" cy="492.00" r="1.9" fill="#1f2c9c"/>
<circle cx="77.68" cy="493.72" r="1.9" fill="#1f2c9c"/>
<circle cx="100.36" cy="506.99" r="1.9" fill="#1f2c9c"/>
<circle cx="123.04" cy="512.01" r="1.9" fill="#1f2c9c"/>
<circle cx="145.72" cy="513.52" r="1.9" fill="#1f2c9c"/>
<circle cx="168.40" cy="521.56" r="1.9" fill="#1f2c9c"/>
<circle cx="191.08" cy="526.51" r="1.9" fill="#1f2c9c"/>
<circle cx="213.76" cy="524.31" r="1.9" fill="#1f2c9c"/>
<line x1="55.00" y1="477.75" x2="55.00" y2="561.35" stroke="#000" stroke-width="1.5"/>
<line x1="54.40" y1="560.75" x2="214.36" y2="560.75" stroke="#000" stroke-width="1.5"/>
<line x1="52.00" y1="560.75" x2="55.00" y2="560.75" stroke="#000" stroke-width="1.0"/>
<text transform="translate(51.40 563.09) scale(0.9 1)" font-size="7.0" text-anchor="end" font-weight="normal" font-style="normal" fill="#000" class="tk">0</text>
<line x1="52.00" y1="547.00" x2="55.00" y2="547.00" stroke="#000" stroke-width="1.0"/>
<text transform="translate(51.40 549.34) scale(0.9 1)" font-size="7.0" text-anchor="end" font-weight="normal" font-style="normal" fill="#000" class="tk">20</text>
<line x1="52.00" y1="533.25" x2="55.00" y2="533.25" stroke="#000" stroke-width="1.0"/>
<text transform="translate(51.40 535.59) scale(0.9 1)" font-size="7.0" text-anchor="end" font-weight="normal" font-style="normal" fill="#000" class="tk">40</text>
<line x1="52.00" y1="519.50" x2="55.00" y2="519.50" stroke="#000" stroke-width="1.0"/>
<text transform="translate(51.40 521.84) scale(0.9 1)" font-size="7.0" text-anchor="end" font-weight="normal" font-style="normal" fill="#000" class="tk">60</text>
<line x1="52.00" y1="505.75" x2="55.00" y2="505.75" stroke="#000" stroke-width="1.0"/>
<text transform="translate(51.40 508.09) scale(0.9 1)" font-size="7.0" text-anchor="end" font-weight="normal" font-style="normal" fill="#000" class="tk">80</text>
<line x1="52.00" y1="492.00" x2="55.00" y2="492.00" stroke="#000" stroke-width="1.0"/>
<text transform="translate(51.40 494.34) scale(0.9 1)" font-size="7.0" text-anchor="end" font-weight="normal" font-style="normal" fill="#000" class="tk">100</text>
<line x1="52.00" y1="478.25" x2="55.00" y2="478.25" stroke="#000" stroke-width="1.0"/>
<text transform="translate(51.40 480.59) scale(0.9 1)" font-size="7.0" text-anchor="end" font-weight="normal" font-style="normal" fill="#000" class="tk">120</text>
<line x1="77.68" y1="560.75" x2="77.68" y2="563.35" stroke="#000" stroke-width="1.0"/>
<line x1="100.36" y1="560.75" x2="100.36" y2="563.35" stroke="#000" stroke-width="1.0"/>
<line x1="123.04" y1="560.75" x2="123.04" y2="563.35" stroke="#000" stroke-width="1.0"/>
<line x1="145.72" y1="560.75" x2="145.72" y2="563.35" stroke="#000" stroke-width="1.0"/>
<line x1="168.40" y1="560.75" x2="168.40" y2="563.35" stroke="#000" stroke-width="1.0"/>
<line x1="191.08" y1="560.75" x2="191.08" y2="563.35" stroke="#000" stroke-width="1.0"/>
<line x1="213.76" y1="560.75" x2="213.76" y2="563.35" stroke="#000" stroke-width="1.0"/>
<text x="36.70" y="512.00" font-size="5.93" text-anchor="middle" font-weight="bold" font-style="normal" fill="#000" transform="rotate(-90 36.70 512.00)" stroke="#000" stroke-width="0.21">Live  (% of control, Annexin V-PI-)</text>
<line x1="62.00" y1="540.50" x2="71.30" y2="540.50" stroke="#1f2c9c" stroke-width="1.5"/>
<circle cx="66.65" cy="540.50" r="1.9" fill="#1f2c9c"/>
<text x="75.10" y="542.61" font-size="5.85" text-anchor="start" font-weight="normal" font-style="normal" fill="#000" stroke="#000" stroke-width="0.30">Lisaftoclax</text>
<line x1="62.00" y1="548.00" x2="71.30" y2="548.00" stroke="#ee1c25" stroke-width="1.5"/>
<circle cx="66.65" cy="548.00" r="1.9" fill="#ee1c25"/>
<text x="75.10" y="550.11" font-size="5.85" text-anchor="start" font-weight="normal" font-style="normal" fill="#000" stroke="#000" stroke-width="0.30">Lisaftoclax + Alrizomadlin 0.11 µmol/L</text>
<line x1="62.00" y1="555.50" x2="71.30" y2="555.50" stroke="#35b14a" stroke-width="1.5"/>
<circle cx="66.65" cy="555.50" r="1.9" fill="#35b14a"/>
<text x="75.10" y="557.61" font-size="5.85" text-anchor="start" font-weight="normal" font-style="normal" fill="#000" stroke="#000" stroke-width="0.30">Lisaftoclax + Alrizomadlin 0.33 µmol/L</text>
<text x="52.00" y="573.00" font-size="5.6" text-anchor="end" font-weight="normal" font-style="normal" fill="#000" stroke="#000" stroke-width="0.30">Lisaftoclax (nmol/L)</text>
<text x="55.00" y="573.20" font-size="6.2" text-anchor="middle" font-weight="normal" font-style="normal" fill="#000" stroke="#000" stroke-width="0.30">0</text>
<text x="77.68" y="573.20" font-size="6.2" text-anchor="middle" font-weight="normal" font-style="normal" fill="#000" stroke="#000" stroke-width="0.30">4.56</text>
<text x="100.36" y="573.20" font-size="6.2" text-anchor="middle" font-weight="normal" font-style="normal" fill="#000" stroke="#000" stroke-width="0.30">13.7</text>
<text x="123.04" y="573.20" font-size="6.2" text-anchor="middle" font-weight="normal" font-style="normal" fill="#000" stroke="#000" stroke-width="0.30">41.2</text>
<text x="145.72" y="573.20" font-size="6.2" text-anchor="middle" font-weight="normal" font-style="normal" fill="#000" stroke="#000" stroke-width="0.30">123</text>
<text x="168.40" y="573.20" font-size="6.2" text-anchor="middle" font-weight="normal" font-style="normal" fill="#000" stroke="#000" stroke-width="0.30">370</text>
<text x="191.08" y="573.20" font-size="6.2" text-anchor="middle" font-weight="normal" font-style="normal" fill="#000" stroke="#000" stroke-width="0.30">1111</text>
<text x="213.76" y="573.20" font-size="6.2" text-anchor="middle" font-weight="normal" font-style="normal" fill="#000" stroke="#000" stroke-width="0.30">3333</text>
<text x="354.50" y="148.00" font-size="5.9" text-anchor="middle" font-weight="bold" font-style="normal" fill="#000" stroke="#000" stroke-width="0.21">Loewe synergy score</text>
<text x="354.50" y="155.80" font-size="5.9" text-anchor="middle" font-weight="bold" font-style="normal" fill="#000" stroke="#000" stroke-width="0.21">Block 1 : Alrizomadlin &amp; Lisaftoclax</text>
<text x="354.50" y="163.20" font-size="5.9" text-anchor="middle" stroke="#000" stroke-width="0.25">Mean: 13.66 (<tspan font-style="italic">P</tspan> = 8.41e–02)</text>
<rect x="321.90" y="168.30" width="45.80" height="16.82" fill="#fdebe2"/>
<rect x="367.50" y="168.30" width="45.60" height="16.82" fill="#ed1c24"/>
<text x="344.70" y="177.69" font-size="3" text-anchor="middle" font-weight="normal" font-style="normal" fill="#222">1.38</text>
<text x="390.30" y="177.69" font-size="3" text-anchor="middle" font-weight="normal" font-style="normal" fill="#222">24.70</text>
<text x="299.10" y="177.69" font-size="3" text-anchor="middle" font-weight="normal" font-style="normal" fill="#444">0</text>
<rect x="321.90" y="184.92" width="45.80" height="16.82" fill="#f8b49e"/>
<rect x="367.50" y="184.92" width="45.60" height="16.82" fill="#f1593c"/>
<text x="344.70" y="194.31" font-size="3" text-anchor="middle" font-weight="normal" font-style="normal" fill="#222">9.70</text>
<text x="390.30" y="194.31" font-size="3" text-anchor="middle" font-weight="normal" font-style="normal" fill="#222">18.10</text>
<text x="299.10" y="194.31" font-size="3" text-anchor="middle" font-weight="normal" font-style="normal" fill="#444">0</text>
<rect x="321.90" y="201.54" width="45.80" height="16.82" fill="#f58c70"/>
<rect x="367.50" y="201.54" width="45.60" height="16.82" fill="#ed2026"/>
<text x="344.70" y="210.93" font-size="3" text-anchor="middle" font-weight="normal" font-style="normal" fill="#222">13.07</text>
<text x="390.30" y="210.93" font-size="3" text-anchor="middle" font-weight="normal" font-style="normal" fill="#222">24.07</text>
<text x="299.10" y="210.93" font-size="3" text-anchor="middle" font-weight="normal" font-style="normal" fill="#444">0</text>
<rect x="321.90" y="218.16" width="45.80" height="16.82" fill="#f26548"/>
<rect x="367.50" y="218.16" width="45.60" height="16.82" fill="#ee2c2a"/>
<text x="344.70" y="227.55" font-size="3" text-anchor="middle" font-weight="normal" font-style="normal" fill="#222">16.48</text>
<text x="390.30" y="227.55" font-size="3" text-anchor="middle" font-weight="normal" font-style="normal" fill="#222">22.88</text>
<text x="299.10" y="227.55" font-size="3" text-anchor="middle" font-weight="normal" font-style="normal" fill="#444">0</text>
<rect x="321.90" y="234.78" width="45.80" height="16.82" fill="#f9bda9"/>
<rect x="367.50" y="234.78" width="45.60" height="16.82" fill="#f15f41"/>
<text x="344.70" y="244.17" font-size="3" text-anchor="middle" font-weight="normal" font-style="normal" fill="#222">8.86</text>
<text x="390.30" y="244.17" font-size="3" text-anchor="middle" font-weight="normal" font-style="normal" fill="#222">17.38</text>
<text x="299.10" y="244.17" font-size="3" text-anchor="middle" font-weight="normal" font-style="normal" fill="#444">0</text>
<text x="299.10" y="260.79" font-size="3" text-anchor="middle" font-weight="normal" font-style="normal" fill="#444">0</text>
<text x="344.70" y="260.79" font-size="3" text-anchor="middle" font-weight="normal" font-style="normal" fill="#444">0</text>
<text x="390.30" y="260.79" font-size="3" text-anchor="middle" font-weight="normal" font-style="normal" fill="#444">0</text>
<text x="269.50" y="178.19" font-size="4.4" text-anchor="end" font-weight="bold" font-style="normal" fill="#222" stroke="#222" stroke-width="0.21">370</text>
<line x1="270.30" y1="176.61" x2="271.70" y2="176.61" stroke="#444" stroke-width="0.5"/>
<text x="269.50" y="194.81" font-size="4.4" text-anchor="end" font-weight="bold" font-style="normal" fill="#222" stroke="#222" stroke-width="0.21">123</text>
<line x1="270.30" y1="193.23" x2="271.70" y2="193.23" stroke="#444" stroke-width="0.5"/>
<text x="269.50" y="211.43" font-size="4.4" text-anchor="end" font-weight="bold" font-style="normal" fill="#222" stroke="#222" stroke-width="0.21">41.2</text>
<line x1="270.30" y1="209.85" x2="271.70" y2="209.85" stroke="#444" stroke-width="0.5"/>
<text x="269.50" y="228.05" font-size="4.4" text-anchor="end" font-weight="bold" font-style="normal" fill="#222" stroke="#222" stroke-width="0.21">13.7</text>
<line x1="270.30" y1="226.47" x2="271.70" y2="226.47" stroke="#444" stroke-width="0.5"/>
<text x="269.50" y="244.67" font-size="4.4" text-anchor="end" font-weight="bold" font-style="normal" fill="#222" stroke="#222" stroke-width="0.21">4.57</text>
<line x1="270.30" y1="243.09" x2="271.70" y2="243.09" stroke="#444" stroke-width="0.5"/>
<text x="269.50" y="261.29" font-size="4.4" text-anchor="end" font-weight="bold" font-style="normal" fill="#222" stroke="#222" stroke-width="0.21">0</text>
<line x1="270.30" y1="259.71" x2="271.70" y2="259.71" stroke="#444" stroke-width="0.5"/>
<line x1="299.10" y1="270.00" x2="299.10" y2="271.40" stroke="#444" stroke-width="0.5"/>
<text x="299.10" y="275.00" font-size="4.4" text-anchor="middle" font-weight="normal" font-style="normal" fill="#333" stroke="#333" stroke-width="0.30">0</text>
<line x1="344.70" y1="270.00" x2="344.70" y2="271.40" stroke="#444" stroke-width="0.5"/>
<text x="344.70" y="275.00" font-size="4.4" text-anchor="middle" font-weight="normal" font-style="normal" fill="#333" stroke="#333" stroke-width="0.30">110</text>
<line x1="390.30" y1="270.00" x2="390.30" y2="271.40" stroke="#444" stroke-width="0.5"/>
<text x="390.30" y="275.00" font-size="4.4" text-anchor="middle" font-weight="normal" font-style="normal" fill="#333" stroke="#333" stroke-width="0.30">330</text>
<text x="343.50" y="283.00" font-size="5.9" text-anchor="middle" font-weight="normal" font-style="normal" fill="#000" stroke="#000" stroke-width="0.30">Alrizomadlin (nmol/L)</text>
<text x="258.00" y="224.00" font-size="5.9" text-anchor="middle" font-weight="normal" font-style="normal" fill="#000" transform="rotate(-90 258.00 224.00)" stroke="#000" stroke-width="0.30">Lisaftoclax (nmol/L)</text>
<defs><linearGradient id="cb1" x1="0" y1="0" x2="0" y2="1"><stop offset="0" stop-color="#ed1c24"/><stop offset="0.08" stop-color="#ed1c24"/><stop offset="0.2" stop-color="#f0503f"/><stop offset="0.35" stop-color="#f9b6a4"/><stop offset="0.5" stop-color="#ffffff"/><stop offset="0.65" stop-color="#bfe3bd"/><stop offset="0.8" stop-color="#6cc46b"/><stop offset="0.92" stop-color="#3caf46"/><stop offset="1" stop-color="#3caf46"/></linearGradient></defs>
<rect x="425" y="189.6" width="10" height="63" fill="url(#cb1)"/>
<text x="424.00" y="186.50" font-size="5" text-anchor="start" font-weight="normal" font-style="normal" fill="#000" stroke="#000" stroke-width="0.30">Synergy score</text>
<text x="437.00" y="191.26" font-size="4.6" text-anchor="start" font-weight="bold" font-style="normal" fill="#000" stroke="#000" stroke-width="0.21">30</text>
<text x="437.00" y="201.76" font-size="4.6" text-anchor="start" font-weight="bold" font-style="normal" fill="#000" stroke="#000" stroke-width="0.21">20</text>
<text x="437.00" y="212.26" font-size="4.6" text-anchor="start" font-weight="bold" font-style="normal" fill="#000" stroke="#000" stroke-width="0.21">10</text>
<text x="437.00" y="222.76" font-size="4.6" text-anchor="start" font-weight="bold" font-style="normal" fill="#000" stroke="#000" stroke-width="0.21">0</text>
<text x="437.00" y="233.26" font-size="4.6" text-anchor="start" font-weight="bold" font-style="normal" fill="#000" stroke="#000" stroke-width="0.21">−10</text>
<text x="437.00" y="243.76" font-size="4.6" text-anchor="start" font-weight="bold" font-style="normal" fill="#000" stroke="#000" stroke-width="0.21">−20</text>
<text x="437.00" y="254.26" font-size="4.6" text-anchor="start" font-weight="bold" font-style="normal" fill="#000" stroke="#000" stroke-width="0.21">−30</text>
<rect x="401.5" y="256.6" width="116.5" height="32.3" fill="#fff" stroke="#b8b8b8" stroke-width="0.8"/>
<line x1="401.50" y1="267.37" x2="518.00" y2="267.37" stroke="#b8b8b8" stroke-width="0.8"/>
<line x1="401.50" y1="278.13" x2="518.00" y2="278.13" stroke="#b8b8b8" stroke-width="0.8"/>
<text x="411.00" y="264.58" font-size="7.2" fill="#222" stroke="#222" stroke-width="0.2" xml:space="preserve">1. Less than -10: <tspan font-weight="bold" font-style="italic" fill="#22b14c" stroke="#22b14c" stroke-width="0.15">antagonistic</tspan></text>
<text x="411.00" y="275.34" font-size="7.2" fill="#222" stroke="#222" stroke-width="0.2" xml:space="preserve">2. From -10 to 10: <tspan font-weight="bold" font-style="italic" fill="#111" stroke="#111" stroke-width="0.15">additive</tspan></text>
<text x="411.00" y="286.11" font-size="7.2" fill="#222" stroke="#222" stroke-width="0.2" xml:space="preserve">3. Larger than 10: <tspan font-weight="bold" font-style="italic" fill="#ed1c24" stroke="#ed1c24" stroke-width="0.15">synergistic</tspan></text>
<text x="356.50" y="462.60" font-size="5.9" text-anchor="middle" font-weight="bold" font-style="normal" fill="#000" stroke="#000" stroke-width="0.21">Loewe synergy score</text>
<text x="356.50" y="469.60" font-size="5.9" text-anchor="middle" font-weight="bold" font-style="normal" fill="#000" stroke="#000" stroke-width="0.21">Block 1 : Alrizomadlin &amp; Lisaftoclax</text>
<text x="356.50" y="476.60" font-size="5.9" text-anchor="middle" stroke="#000" stroke-width="0.25">Mean: 13.28 (<tspan font-style="italic">P</tspan> = 1.41e–02)</text>
<rect x="318.30" y="481.30" width="41.65" height="11.79" fill="#f26144"/>
<rect x="359.75" y="481.30" width="41.45" height="11.79" fill="#ed2327"/>
<text x="339.03" y="488.18" font-size="3" text-anchor="middle" font-weight="normal" font-style="normal" fill="#222">17.06</text>
<text x="380.48" y="488.18" font-size="3" text-anchor="middle" font-weight="normal" font-style="normal" fill="#222">23.75</text>
<text x="297.57" y="488.18" font-size="3" text-anchor="middle" font-weight="normal" font-style="normal" fill="#444">0</text>
<rect x="318.30" y="492.89" width="41.65" height="11.79" fill="#f6987e"/>
<rect x="359.75" y="492.89" width="41.45" height="11.79" fill="#f36d50"/>
<text x="339.03" y="499.76" font-size="3" text-anchor="middle" font-weight="normal" font-style="normal" fill="#222">12.06</text>
<text x="380.48" y="499.76" font-size="3" text-anchor="middle" font-weight="normal" font-style="normal" fill="#222">15.79</text>
<text x="297.57" y="499.76" font-size="3" text-anchor="middle" font-weight="normal" font-style="normal" fill="#444">0</text>
<rect x="318.30" y="504.48" width="41.65" height="11.79" fill="#f6977d"/>
<rect x="359.75" y="504.48" width="41.45" height="11.79" fill="#ed2126"/>
<text x="339.03" y="511.36" font-size="3" text-anchor="middle" font-weight="normal" font-style="normal" fill="#222">12.16</text>
<text x="380.48" y="511.36" font-size="3" text-anchor="middle" font-weight="normal" font-style="normal" fill="#222">23.96</text>
<text x="297.57" y="511.36" font-size="3" text-anchor="middle" font-weight="normal" font-style="normal" fill="#444">0</text>
<rect x="318.30" y="516.07" width="41.65" height="11.79" fill="#f6947a"/>
<rect x="359.75" y="516.07" width="41.45" height="11.79" fill="#f58f74"/>
<text x="339.03" y="522.95" font-size="3" text-anchor="middle" font-weight="normal" font-style="normal" fill="#222">12.37</text>
<text x="380.48" y="522.95" font-size="3" text-anchor="middle" font-weight="normal" font-style="normal" fill="#222">12.80</text>
<text x="297.57" y="522.95" font-size="3" text-anchor="middle" font-weight="normal" font-style="normal" fill="#444">0</text>
<rect x="318.30" y="527.66" width="41.65" height="11.79" fill="#f26447"/>
<rect x="359.75" y="527.66" width="41.45" height="11.79" fill="#ed1c24"/>
<text x="339.03" y="534.53" font-size="3" text-anchor="middle" font-weight="normal" font-style="normal" fill="#222">16.66</text>
<text x="380.48" y="534.53" font-size="3" text-anchor="middle" font-weight="normal" font-style="normal" fill="#222">26.10</text>
<text x="297.57" y="534.53" font-size="3" text-anchor="middle" font-weight="normal" font-style="normal" fill="#444">0</text>
<rect x="318.30" y="539.25" width="41.65" height="11.79" fill="#fbcfbf"/>
<rect x="359.75" y="539.25" width="41.45" height="11.79" fill="#f15339"/>
<text x="339.03" y="546.12" font-size="3" text-anchor="middle" font-weight="normal" font-style="normal" fill="#222">5.94</text>
<text x="380.48" y="546.12" font-size="3" text-anchor="middle" font-weight="normal" font-style="normal" fill="#222">18.75</text>
<text x="297.57" y="546.12" font-size="3" text-anchor="middle" font-weight="normal" font-style="normal" fill="#444">0</text>
<rect x="318.30" y="550.84" width="41.65" height="11.79" fill="#fce4d9"/>
<rect x="359.75" y="550.84" width="41.45" height="11.79" fill="#f3775b"/>
<text x="339.03" y="557.72" font-size="3" text-anchor="middle" font-weight="normal" font-style="normal" fill="#222">2.51</text>
<text x="380.48" y="557.72" font-size="3" text-anchor="middle" font-weight="normal" font-style="normal" fill="#222">14.90</text>
<text x="297.57" y="557.72" font-size="3" text-anchor="middle" font-weight="normal" font-style="normal" fill="#444">0</text>
<text x="297.57" y="569.31" font-size="3" text-anchor="middle" font-weight="normal" font-style="normal" fill="#444">0</text>
<text x="339.02" y="569.31" font-size="3" text-anchor="middle" font-weight="normal" font-style="normal" fill="#444">0</text>
<text x="380.48" y="569.31" font-size="3" text-anchor="middle" font-weight="normal" font-style="normal" fill="#444">0</text>
<text x="269.50" y="488.68" font-size="4.4" text-anchor="end" font-weight="bold" font-style="normal" fill="#222" stroke="#222" stroke-width="0.21">3,333</text>
<line x1="270.30" y1="487.10" x2="271.70" y2="487.10" stroke="#444" stroke-width="0.5"/>
<text x="269.50" y="500.27" font-size="4.4" text-anchor="end" font-weight="bold" font-style="normal" fill="#222" stroke="#222" stroke-width="0.21">1,111</text>
<line x1="270.30" y1="498.69" x2="271.70" y2="498.69" stroke="#444" stroke-width="0.5"/>
<text x="269.50" y="511.86" font-size="4.4" text-anchor="end" font-weight="bold" font-style="normal" fill="#222" stroke="#222" stroke-width="0.21">370</text>
<line x1="270.30" y1="510.28" x2="271.70" y2="510.28" stroke="#444" stroke-width="0.5"/>
<text x="269.50" y="523.45" font-size="4.4" text-anchor="end" font-weight="bold" font-style="normal" fill="#222" stroke="#222" stroke-width="0.21">123</text>
<line x1="270.30" y1="521.87" x2="271.70" y2="521.87" stroke="#444" stroke-width="0.5"/>
<text x="269.50" y="535.04" font-size="4.4" text-anchor="end" font-weight="bold" font-style="normal" fill="#222" stroke="#222" stroke-width="0.21">41.2</text>
<line x1="270.30" y1="533.45" x2="271.70" y2="533.45" stroke="#444" stroke-width="0.5"/>
<text x="269.50" y="546.63" font-size="4.4" text-anchor="end" font-weight="bold" font-style="normal" fill="#222" stroke="#222" stroke-width="0.21">13.7</text>
<line x1="270.30" y1="545.04" x2="271.70" y2="545.04" stroke="#444" stroke-width="0.5"/>
<text x="269.50" y="558.22" font-size="4.4" text-anchor="end" font-weight="bold" font-style="normal" fill="#222" stroke="#222" stroke-width="0.21">4.57</text>
<line x1="270.30" y1="556.63" x2="271.70" y2="556.63" stroke="#444" stroke-width="0.5"/>
<text x="269.50" y="569.81" font-size="4.4" text-anchor="end" font-weight="bold" font-style="normal" fill="#222" stroke="#222" stroke-width="0.21">0</text>
<line x1="270.30" y1="568.23" x2="271.70" y2="568.23" stroke="#444" stroke-width="0.5"/>
<line x1="297.57" y1="575.20" x2="297.57" y2="576.60" stroke="#444" stroke-width="0.5"/>
<text x="297.57" y="580.20" font-size="4.4" text-anchor="middle" font-weight="normal" font-style="normal" fill="#333" stroke="#333" stroke-width="0.30">0</text>
<line x1="339.02" y1="575.20" x2="339.02" y2="576.60" stroke="#444" stroke-width="0.5"/>
<text x="339.02" y="580.20" font-size="4.4" text-anchor="middle" font-weight="normal" font-style="normal" fill="#333" stroke="#333" stroke-width="0.30">110</text>
<line x1="380.48" y1="575.20" x2="380.48" y2="576.60" stroke="#444" stroke-width="0.5"/>
<text x="380.48" y="580.20" font-size="4.4" text-anchor="middle" font-weight="normal" font-style="normal" fill="#333" stroke="#333" stroke-width="0.30">330</text>
<text x="343.00" y="587.60" font-size="5.9" text-anchor="middle" font-weight="normal" font-style="normal" fill="#000" stroke="#000" stroke-width="0.30">Alrizomadlin (nmol/L)</text>
<text x="257.50" y="528.00" font-size="5.9" text-anchor="middle" font-weight="normal" font-style="normal" fill="#000" transform="rotate(-90 257.50 528.00)" stroke="#000" stroke-width="0.30">Lisaftoclax (nmol/L)</text>
<defs><linearGradient id="cb2" x1="0" y1="0" x2="0" y2="1"><stop offset="0" stop-color="#ed1c24"/><stop offset="0.08" stop-color="#ed1c24"/><stop offset="0.2" stop-color="#f0503f"/><stop offset="0.35" stop-color="#f9b6a4"/><stop offset="0.5" stop-color="#ffffff"/><stop offset="0.65" stop-color="#bfe3bd"/><stop offset="0.8" stop-color="#6cc46b"/><stop offset="0.92" stop-color="#3caf46"/><stop offset="1" stop-color="#3caf46"/></linearGradient></defs>
<rect x="412" y="502" width="8" height="57.5" fill="url(#cb2)"/>
<text x="409.50" y="498.80" font-size="5" text-anchor="start" font-weight="normal" font-style="normal" fill="#000" stroke="#000" stroke-width="0.30">Synergy score</text>
<text x="422.50" y="503.66" font-size="4.6" text-anchor="start" font-weight="bold" font-style="normal" fill="#000" stroke="#000" stroke-width="0.21">30</text>
<text x="422.50" y="513.24" font-size="4.6" text-anchor="start" font-weight="bold" font-style="normal" fill="#000" stroke="#000" stroke-width="0.21">20</text>
<text x="422.50" y="522.82" font-size="4.6" text-anchor="start" font-weight="bold" font-style="normal" fill="#000" stroke="#000" stroke-width="0.21">10</text>
<text x="422.50" y="532.41" font-size="4.6" text-anchor="start" font-weight="bold" font-style="normal" fill="#000" stroke="#000" stroke-width="0.21">0</text>
<text x="422.50" y="541.99" font-size="4.6" text-anchor="start" font-weight="bold" font-style="normal" fill="#000" stroke="#000" stroke-width="0.21">−10</text>
<text x="422.50" y="551.57" font-size="4.6" text-anchor="start" font-weight="bold" font-style="normal" fill="#000" stroke="#000" stroke-width="0.21">−20</text>
<text x="422.50" y="561.16" font-size="4.6" text-anchor="start" font-weight="bold" font-style="normal" fill="#000" stroke="#000" stroke-width="0.21">−30</text>
<rect x="394.5" y="563.3" width="116.3" height="33.8" fill="#fff" stroke="#b8b8b8" stroke-width="0.8"/>
<line x1="394.50" y1="574.57" x2="510.80" y2="574.57" stroke="#b8b8b8" stroke-width="0.8"/>
<line x1="394.50" y1="585.83" x2="510.80" y2="585.83" stroke="#b8b8b8" stroke-width="0.8"/>
<text x="403.00" y="571.53" font-size="7.2" fill="#222" stroke="#222" stroke-width="0.2" xml:space="preserve">1. Less than -10: <tspan font-weight="bold" font-style="italic" fill="#22b14c" stroke="#22b14c" stroke-width="0.15">antagonistic</tspan></text>
<text x="403.00" y="582.79" font-size="7.2" fill="#222" stroke="#222" stroke-width="0.2" xml:space="preserve">2. From -10 to 10: <tspan font-weight="bold" font-style="italic" fill="#111" stroke="#111" stroke-width="0.15">additive</tspan></text>
<text x="403.00" y="594.06" font-size="7.2" fill="#222" stroke="#222" stroke-width="0.2" xml:space="preserve">3. Larger than 10: <tspan font-weight="bold" font-style="italic" fill="#ed1c24" stroke="#ed1c24" stroke-width="0.15">synergistic</tspan></text>
<rect x="290.80" y="319.20" width="21.50" height="82.00" fill="#000"/>
<rect x="322.50" y="324.12" width="21.20" height="77.08" fill="#2e3192"/>
<rect x="353.80" y="354.87" width="21.60" height="46.33" fill="#2db34a"/>
<rect x="385.50" y="376.44" width="21.30" height="24.76" fill="#ef3e42"/>
<line x1="286.20" y1="310.50" x2="286.20" y2="401.80" stroke="#000" stroke-width="1.2"/>
<line x1="285.60" y1="401.20" x2="413.00" y2="401.20" stroke="#000" stroke-width="1.2"/>
<line x1="283.20" y1="401.20" x2="286.20" y2="401.20" stroke="#000" stroke-width="0.9"/>
<text x="282.40" y="403.36" font-size="6" text-anchor="end" font-weight="bold" font-style="normal" fill="#000" stroke="#000" stroke-width="0.21">0</text>
<line x1="283.20" y1="393.00" x2="286.20" y2="393.00" stroke="#000" stroke-width="0.9"/>
<text x="282.40" y="395.16" font-size="6" text-anchor="end" font-weight="bold" font-style="normal" fill="#000" stroke="#000" stroke-width="0.21">10</text>
<line x1="283.20" y1="384.80" x2="286.20" y2="384.80" stroke="#000" stroke-width="0.9"/>
<text x="282.40" y="386.96" font-size="6" text-anchor="end" font-weight="bold" font-style="normal" fill="#000" stroke="#000" stroke-width="0.21">20</text>
<line x1="283.20" y1="376.60" x2="286.20" y2="376.60" stroke="#000" stroke-width="0.9"/>
<text x="282.40" y="378.76" font-size="6" text-anchor="end" font-weight="bold" font-style="normal" fill="#000" stroke="#000" stroke-width="0.21">30</text>
<line x1="283.20" y1="368.40" x2="286.20" y2="368.40" stroke="#000" stroke-width="0.9"/>
<text x="282.40" y="370.56" font-size="6" text-anchor="end" font-weight="bold" font-style="normal" fill="#000" stroke="#000" stroke-width="0.21">40</text>
<line x1="283.20" y1="360.20" x2="286.20" y2="360.20" stroke="#000" stroke-width="0.9"/>
<text x="282.40" y="362.36" font-size="6" text-anchor="end" font-weight="bold" font-style="normal" fill="#000" stroke="#000" stroke-width="0.21">50</text>
<line x1="283.20" y1="352.00" x2="286.20" y2="352.00" stroke="#000" stroke-width="0.9"/>
<text x="282.40" y="354.16" font-size="6" text-anchor="end" font-weight="bold" font-style="normal" fill="#000" stroke="#000" stroke-width="0.21">60</text>
<line x1="283.20" y1="343.80" x2="286.20" y2="343.80" stroke="#000" stroke-width="0.9"/>
<text x="282.40" y="345.96" font-size="6" text-anchor="end" font-weight="bold" font-style="normal" fill="#000" stroke="#000" stroke-width="0.21">70</text>
<line x1="283.20" y1="335.60" x2="286.20" y2="335.60" stroke="#000" stroke-width="0.9"/>
<text x="282.40" y="337.76" font-size="6" text-anchor="end" font-weight="bold" font-style="normal" fill="#000" stroke="#000" stroke-width="0.21">80</text>
<line x1="283.20" y1="327.40" x2="286.20" y2="327.40" stroke="#000" stroke-width="0.9"/>
<text x="282.40" y="329.56" font-size="6" text-anchor="end" font-weight="bold" font-style="normal" fill="#000" stroke="#000" stroke-width="0.21">90</text>
<line x1="283.20" y1="319.20" x2="286.20" y2="319.20" stroke="#000" stroke-width="0.9"/>
<text x="282.40" y="321.36" font-size="6" text-anchor="end" font-weight="bold" font-style="normal" fill="#000" stroke="#000" stroke-width="0.21">100</text>
<line x1="283.20" y1="311.00" x2="286.20" y2="311.00" stroke="#000" stroke-width="0.9"/>
<text x="282.40" y="313.16" font-size="6" text-anchor="end" font-weight="bold" font-style="normal" fill="#000" stroke="#000" stroke-width="0.21">110</text>
<line x1="301.55" y1="401.20" x2="301.55" y2="403.80" stroke="#000" stroke-width="0.9"/>
<text x="304.05" y="407.20" font-size="6.05" text-anchor="end" font-weight="bold" font-style="normal" fill="#000" transform="rotate(-45 304.05 407.20)" stroke="#000" stroke-width="0.21">DMSO</text>
<line x1="333.10" y1="401.20" x2="333.10" y2="403.80" stroke="#000" stroke-width="0.9"/>
<text x="335.60" y="407.20" font-size="6.05" text-anchor="end" font-weight="bold" font-style="normal" fill="#000" transform="rotate(-45 335.60 407.20)" stroke="#000" stroke-width="0.21">Alrizomadlin-330 nmol/L</text>
<line x1="364.60" y1="401.20" x2="364.60" y2="403.80" stroke="#000" stroke-width="0.9"/>
<text x="367.10" y="407.20" font-size="6.05" text-anchor="end" font-weight="bold" font-style="normal" fill="#000" transform="rotate(-45 367.10 407.20)" stroke="#000" stroke-width="0.21">Lisaftoclax-370 nmol/L</text>
<line x1="396.15" y1="401.20" x2="396.15" y2="403.80" stroke="#000" stroke-width="0.9"/>
<text x="398.65" y="407.20" font-size="6.05" text-anchor="end" font-weight="bold" font-style="normal" fill="#000" transform="rotate(-45 398.65 407.20)" stroke="#000" stroke-width="0.21">Combination</text>
<text x="301.50" y="308.60" font-size="6.15" text-anchor="start" font-weight="bold" font-style="normal" fill="#000" stroke="#000" stroke-width="0.21">Patient 02-AML</text>
<text x="348.20" y="308.60" font-weight="bold" font-size="7.22">(treated with 24 hrs, <tspan font-style="italic">n</tspan> = 1)</text>
<text x="267.50" y="358.00" font-size="5.95" text-anchor="middle" font-weight="bold" font-style="normal" fill="#000" transform="rotate(-90 267.50 358.00)" stroke="#000" stroke-width="0.21">Live  (% of control, Annexin V-PI-)</text>
<rect x="291.80" y="623.94" width="22.50" height="83.36" fill="#000"/>
<rect x="324.00" y="642.28" width="22.50" height="65.02" fill="#2e3192"/>
<rect x="357.00" y="650.20" width="22.00" height="57.10" fill="#2db34a"/>
<rect x="389.00" y="670.29" width="22.30" height="37.01" fill="#ef3e42"/>
<line x1="287.00" y1="615.10" x2="287.00" y2="707.90" stroke="#000" stroke-width="1.2"/>
<line x1="286.40" y1="707.30" x2="418.50" y2="707.30" stroke="#000" stroke-width="1.2"/>
<line x1="284.00" y1="707.30" x2="287.00" y2="707.30" stroke="#000" stroke-width="0.9"/>
<text x="283.20" y="709.46" font-size="6" text-anchor="end" font-weight="bold" font-style="normal" fill="#000" stroke="#000" stroke-width="0.21">0</text>
<line x1="284.00" y1="698.96" x2="287.00" y2="698.96" stroke="#000" stroke-width="0.9"/>
<text x="283.20" y="701.12" font-size="6" text-anchor="end" font-weight="bold" font-style="normal" fill="#000" stroke="#000" stroke-width="0.21">10</text>
<line x1="284.00" y1="690.63" x2="287.00" y2="690.63" stroke="#000" stroke-width="0.9"/>
<text x="283.20" y="692.79" font-size="6" text-anchor="end" font-weight="bold" font-style="normal" fill="#000" stroke="#000" stroke-width="0.21">20</text>
<line x1="284.00" y1="682.29" x2="287.00" y2="682.29" stroke="#000" stroke-width="0.9"/>
<text x="283.20" y="684.45" font-size="6" text-anchor="end" font-weight="bold" font-style="normal" fill="#000" stroke="#000" stroke-width="0.21">30</text>
<line x1="284.00" y1="673.95" x2="287.00" y2="673.95" stroke="#000" stroke-width="0.9"/>
<text x="283.20" y="676.11" font-size="6" text-anchor="end" font-weight="bold" font-style="normal" fill="#000" stroke="#000" stroke-width="0.21">40</text>
<line x1="284.00" y1="665.62" x2="287.00" y2="665.62" stroke="#000" stroke-width="0.9"/>
<text x="283.20" y="667.78" font-size="6" text-anchor="end" font-weight="bold" font-style="normal" fill="#000" stroke="#000" stroke-width="0.21">50</text>
<line x1="284.00" y1="657.28" x2="287.00" y2="657.28" stroke="#000" stroke-width="0.9"/>
<text x="283.20" y="659.44" font-size="6" text-anchor="end" font-weight="bold" font-style="normal" fill="#000" stroke="#000" stroke-width="0.21">60</text>
<line x1="284.00" y1="648.95" x2="287.00" y2="648.95" stroke="#000" stroke-width="0.9"/>
<text x="283.20" y="651.11" font-size="6" text-anchor="end" font-weight="bold" font-style="normal" fill="#000" stroke="#000" stroke-width="0.21">70</text>
<line x1="284.00" y1="640.61" x2="287.00" y2="640.61" stroke="#000" stroke-width="0.9"/>
<text x="283.20" y="642.77" font-size="6" text-anchor="end" font-weight="bold" font-style="normal" fill="#000" stroke="#000" stroke-width="0.21">80</text>
<line x1="284.00" y1="632.27" x2="287.00" y2="632.27" stroke="#000" stroke-width="0.9"/>
<text x="283.20" y="634.43" font-size="6" text-anchor="end" font-weight="bold" font-style="normal" fill="#000" stroke="#000" stroke-width="0.21">90</text>
<line x1="284.00" y1="623.94" x2="287.00" y2="623.94" stroke="#000" stroke-width="0.9"/>
<text x="283.20" y="626.10" font-size="6" text-anchor="end" font-weight="bold" font-style="normal" fill="#000" stroke="#000" stroke-width="0.21">100</text>
<line x1="284.00" y1="615.60" x2="287.00" y2="615.60" stroke="#000" stroke-width="0.9"/>
<text x="283.20" y="617.76" font-size="6" text-anchor="end" font-weight="bold" font-style="normal" fill="#000" stroke="#000" stroke-width="0.21">110</text>
<line x1="303.05" y1="707.30" x2="303.05" y2="709.90" stroke="#000" stroke-width="0.9"/>
<text x="305.55" y="714.30" font-size="7.2" text-anchor="end" font-weight="bold" font-style="normal" fill="#000" transform="rotate(-45 305.55 714.30)" stroke="#000" stroke-width="0.21">DMSO</text>
<line x1="335.25" y1="707.30" x2="335.25" y2="709.90" stroke="#000" stroke-width="0.9"/>
<text x="337.75" y="714.30" font-size="7.2" text-anchor="end" font-weight="bold" font-style="normal" fill="#000" transform="rotate(-45 337.75 714.30)" stroke="#000" stroke-width="0.21">Alrizomadlin –330 nmol/L</text>
<line x1="368.00" y1="707.30" x2="368.00" y2="709.90" stroke="#000" stroke-width="0.9"/>
<text x="370.50" y="714.30" font-size="7.2" text-anchor="end" font-weight="bold" font-style="normal" fill="#000" transform="rotate(-45 370.50 714.30)" stroke="#000" stroke-width="0.21">Lisaftoclax –123 nmol/L</text>
<line x1="400.15" y1="707.30" x2="400.15" y2="709.90" stroke="#000" stroke-width="0.9"/>
<text x="402.65" y="714.30" font-size="7.2" text-anchor="end" font-weight="bold" font-style="normal" fill="#000" transform="rotate(-45 402.65 714.30)" stroke="#000" stroke-width="0.21">Combination</text>
<text x="294.50" y="612.00" font-size="6.25" text-anchor="start" font-weight="bold" font-style="normal" fill="#000" stroke="#000" stroke-width="0.21">Patient 02-AML</text>
<text x="342.30" y="612.00" font-weight="bold" font-size="7.36">(treated with 48 hrs, <tspan font-style="italic">n</tspan> = 1)</text>
<text x="269.70" y="661.00" font-size="6.55" text-anchor="middle" font-weight="bold" font-style="normal" fill="#000" transform="rotate(-90 269.70 661.00)" stroke="#000" stroke-width="0.21">Live  (% of control, Annexin V-PI-)</text>
<line x1="106.20" y1="384.00" x2="47.20" y2="404.10" stroke="#222" stroke-width="0.7" stroke-dasharray="1.2,1.6"/>
<line x1="106.20" y1="384.00" x2="145.60" y2="420.20" stroke="#222" stroke-width="0.7" stroke-dasharray="1.2,1.6"/>
<line x1="106.20" y1="384.00" x2="107.50" y2="325.10" stroke="#222" stroke-width="0.7" stroke-dasharray="1.2,1.6"/>
<line x1="41.40" y1="342.70" x2="107.50" y2="325.10" stroke="#222" stroke-width="0.7"/>
<line x1="107.50" y1="325.10" x2="151.90" y2="357.80" stroke="#222" stroke-width="0.7"/>
<line x1="47.20" y1="404.10" x2="41.40" y2="342.70" stroke="#222" stroke-width="0.7"/>
<line x1="145.60" y1="420.20" x2="151.90" y2="357.80" stroke="#222" stroke-width="0.7"/>
<line x1="47.20" y1="404.10" x2="79.80" y2="446.70" stroke="#222" stroke-width="0.7"/>
<line x1="79.80" y1="446.70" x2="145.60" y2="420.20" stroke="#222" stroke-width="0.7"/>
<polygon points="100.59,345.94 107.86,338.53 106.04,333.46 98.76,343.11" fill="#f04c54" stroke="#111" stroke-width="0.62" stroke-linejoin="round"/>
<polygon points="102.41,348.58 109.67,343.08 107.86,338.53 100.59,345.94" fill="#f26168" stroke="#111" stroke-width="0.62" stroke-linejoin="round"/>
<polygon points="104.24,350.74 111.49,346.60 109.67,343.08 102.41,348.58" fill="#f37177" stroke="#111" stroke-width="0.62" stroke-linejoin="round"/>
<polygon points="93.46,352.97 100.59,345.94 98.76,343.11 91.67,352.08" fill="#f5858b" stroke="#111" stroke-width="0.62" stroke-linejoin="round"/>
<polygon points="106.08,352.05 113.36,348.54 111.49,346.60 104.24,350.74" fill="#f3777d" stroke="#111" stroke-width="0.62" stroke-linejoin="round"/>
<polygon points="95.25,353.94 102.41,348.58 100.59,345.94 93.46,352.97" fill="#f5878d" stroke="#111" stroke-width="0.62" stroke-linejoin="round"/>
<polygon points="107.95,352.22 115.28,348.61 113.36,348.54 106.08,352.05" fill="#f37178" stroke="#111" stroke-width="0.62" stroke-linejoin="round"/>
<polygon points="97.04,354.90 104.24,350.74 102.41,348.58 95.25,353.94" fill="#f5888e" stroke="#111" stroke-width="0.62" stroke-linejoin="round"/>
<polygon points="86.44,359.21 93.46,352.97 91.67,352.08 84.74,359.62" fill="#f9b6b9" stroke="#111" stroke-width="0.62" stroke-linejoin="round"/>
<polygon points="109.85,351.66 117.27,347.49 115.28,348.61 107.95,352.22" fill="#f16067" stroke="#111" stroke-width="0.62" stroke-linejoin="round"/>
<polygon points="98.84,355.64 106.08,352.05 104.24,350.74 97.04,354.90" fill="#f5868b" stroke="#111" stroke-width="0.62" stroke-linejoin="round"/>
<polygon points="88.16,359.00 95.25,353.94 93.46,352.97 86.44,359.21" fill="#f8aaae" stroke="#111" stroke-width="0.62" stroke-linejoin="round"/>
<polygon points="111.76,350.94 119.29,346.10 117.27,347.49 109.85,351.66" fill="#f04a52" stroke="#111" stroke-width="0.62" stroke-linejoin="round"/>
<polygon points="100.65,355.93 107.95,352.22 106.08,352.05 98.84,355.64" fill="#f47d83" stroke="#111" stroke-width="0.62" stroke-linejoin="round"/>
<polygon points="89.89,359.08 97.04,354.90 95.25,353.94 88.16,359.00" fill="#f79fa3" stroke="#111" stroke-width="0.62" stroke-linejoin="round"/>
<polygon points="113.68,350.63 121.29,345.38 119.29,346.10 111.76,350.94" fill="#ee353e" stroke="#111" stroke-width="0.62" stroke-linejoin="round"/>
<polygon points="79.50,364.22 86.44,359.21 84.74,359.62 77.88,364.97" fill="#fcd9db" stroke="#111" stroke-width="0.62" stroke-linejoin="round"/>
<polygon points="102.47,355.91 109.85,351.66 107.95,352.22 100.65,355.93" fill="#f36f75" stroke="#111" stroke-width="0.62" stroke-linejoin="round"/>
<polygon points="91.63,359.40 98.84,355.64 97.04,354.90 89.89,359.08" fill="#f6959a" stroke="#111" stroke-width="0.62" stroke-linejoin="round"/>
<polygon points="115.58,351.16 123.24,346.04 121.29,345.38 113.68,350.63" fill="#ed2831" stroke="#111" stroke-width="0.62" stroke-linejoin="round"/>
<polygon points="81.13,363.62 88.16,359.00 86.44,359.21 79.50,364.22" fill="#fac6c8" stroke="#111" stroke-width="0.62" stroke-linejoin="round"/>
<polygon points="104.30,355.84 111.76,350.94 109.85,351.66 102.47,355.91" fill="#f15d65" stroke="#111" stroke-width="0.62" stroke-linejoin="round"/>
<polygon points="93.38,359.83 100.65,355.93 98.84,355.64 91.63,359.40" fill="#f58a90" stroke="#111" stroke-width="0.62" stroke-linejoin="round"/>
<polygon points="117.46,352.48 125.14,347.83 123.24,346.04 115.58,351.16" fill="#ec242e" stroke="#111" stroke-width="0.62" stroke-linejoin="round"/>
<polygon points="82.79,363.29 89.89,359.08 88.16,359.00 81.13,363.62" fill="#f9b4b8" stroke="#111" stroke-width="0.62" stroke-linejoin="round"/>
<polygon points="106.15,355.92 113.68,350.63 111.76,350.94 104.30,355.84" fill="#f04d55" stroke="#111" stroke-width="0.62" stroke-linejoin="round"/>
<polygon points="72.58,368.17 79.50,364.22 77.88,364.97 71.02,368.37" fill="#feeeef" stroke="#111" stroke-width="0.62" stroke-linejoin="round"/>
<polygon points="95.14,360.32 102.47,355.91 100.65,355.93 93.38,359.83" fill="#f47f84" stroke="#111" stroke-width="0.62" stroke-linejoin="round"/>
<polygon points="119.31,354.42 126.99,350.29 125.14,347.83 117.46,352.48" fill="#ed2731" stroke="#111" stroke-width="0.62" stroke-linejoin="round"/>
<polygon points="84.47,363.40 91.63,359.40 89.89,359.08 82.79,363.29" fill="#f7a5a9" stroke="#111" stroke-width="0.62" stroke-linejoin="round"/>
<polygon points="107.99,356.36 115.58,351.16 113.68,350.63 106.15,355.92" fill="#ef4149" stroke="#111" stroke-width="0.62" stroke-linejoin="round"/>
<polygon points="74.16,367.98 81.13,363.62 79.50,364.22 72.58,368.17" fill="#fcdbdc" stroke="#111" stroke-width="0.62" stroke-linejoin="round"/>
<polygon points="96.91,360.83 104.30,355.84 102.47,355.91 95.14,360.32" fill="#f37278" stroke="#111" stroke-width="0.62" stroke-linejoin="round"/>
<polygon points="121.13,356.74 128.82,352.91 126.99,350.29 119.31,354.42" fill="#ed2f38" stroke="#111" stroke-width="0.62" stroke-linejoin="round"/>
<polygon points="86.16,364.02 93.38,359.83 91.63,359.40 84.47,363.40" fill="#f69a9e" stroke="#111" stroke-width="0.62" stroke-linejoin="round"/>
<polygon points="109.83,357.26 117.46,352.48 115.58,351.16 107.99,356.36" fill="#ee3a43" stroke="#111" stroke-width="0.62" stroke-linejoin="round"/>
<polygon points="75.76,367.93 82.79,363.29 81.13,363.62 74.16,367.98" fill="#fac9cb" stroke="#111" stroke-width="0.62" stroke-linejoin="round"/>
<polygon points="98.69,361.29 106.15,355.92 104.30,355.84 96.91,360.83" fill="#f2666c" stroke="#111" stroke-width="0.62" stroke-linejoin="round"/>
<polygon points="122.94,359.29 130.66,355.35 128.82,352.91 121.13,356.74" fill="#ee3740" stroke="#111" stroke-width="0.62" stroke-linejoin="round"/>
<polygon points="65.68,371.53 72.58,368.17 71.02,368.37 64.13,370.86" fill="#fef9f9" stroke="#111" stroke-width="0.62" stroke-linejoin="round"/>
<polygon points="87.87,364.96 95.14,360.32 93.38,359.83 86.16,364.02" fill="#f69095" stroke="#111" stroke-width="0.62" stroke-linejoin="round"/>
<polygon points="111.66,358.71 119.31,354.42 117.46,352.48 109.83,357.26" fill="#ee3841" stroke="#111" stroke-width="0.62" stroke-linejoin="round"/>
<polygon points="77.38,368.27 84.47,363.40 82.79,363.29 75.76,367.93" fill="#f9b9bc" stroke="#111" stroke-width="0.62" stroke-linejoin="round"/>
<polygon points="100.47,361.69 107.99,356.36 106.15,355.92 98.69,361.29" fill="#f15a61" stroke="#111" stroke-width="0.62" stroke-linejoin="round"/>
<polygon points="124.73,362.16 132.49,357.86 130.66,355.35 122.94,359.29" fill="#ef414a" stroke="#111" stroke-width="0.62" stroke-linejoin="round"/>
<polygon points="67.24,372.17 74.16,367.98 72.58,368.17 65.68,371.53" fill="#fdebec" stroke="#111" stroke-width="0.62" stroke-linejoin="round"/>
<polygon points="89.59,365.96 96.91,360.83 95.14,360.32 87.87,364.96" fill="#f5888d" stroke="#111" stroke-width="0.62" stroke-linejoin="round"/>
<polygon points="113.46,360.76 121.13,356.74 119.31,354.42 111.66,358.71" fill="#ee3c44" stroke="#111" stroke-width="0.62" stroke-linejoin="round"/>
<polygon points="79.02,369.19 86.16,364.02 84.47,363.40 77.38,368.27" fill="#f8aeb2" stroke="#111" stroke-width="0.62" stroke-linejoin="round"/>
<polygon points="102.26,362.28 109.83,357.26 107.99,356.36 100.47,361.69" fill="#f05159" stroke="#111" stroke-width="0.62" stroke-linejoin="round"/>
<polygon points="126.47,365.54 134.28,360.81 132.49,357.86 124.73,362.16" fill="#f04e56" stroke="#111" stroke-width="0.62" stroke-linejoin="round"/>
<polygon points="68.80,372.87 75.76,367.93 74.16,367.98 67.24,372.17" fill="#fcdddf" stroke="#111" stroke-width="0.62" stroke-linejoin="round"/>
<polygon points="91.30,366.78 98.69,361.29 96.91,360.83 89.59,365.96" fill="#f47f85" stroke="#111" stroke-width="0.62" stroke-linejoin="round"/>
<polygon points="115.25,363.39 122.94,359.29 121.13,356.74 113.46,360.76" fill="#ef434c" stroke="#111" stroke-width="0.62" stroke-linejoin="round"/>
<polygon points="58.77,374.36 65.68,371.53 64.13,370.86 57.22,372.87" fill="#fffdfe" stroke="#111" stroke-width="0.62" stroke-linejoin="round"/>
<polygon points="80.69,370.50 87.87,364.96 86.16,364.02 79.02,369.19" fill="#f8a7ab" stroke="#111" stroke-width="0.62" stroke-linejoin="round"/>
<polygon points="104.05,363.35 111.66,358.71 109.83,357.26 102.26,362.28" fill="#f04b53" stroke="#111" stroke-width="0.62" stroke-linejoin="round"/>
<polygon points="128.16,369.59 136.00,364.59 134.28,360.81 126.47,365.54" fill="#f16067" stroke="#111" stroke-width="0.62" stroke-linejoin="round"/>
<polygon points="70.38,373.80 77.38,368.27 75.76,367.93 68.80,372.87" fill="#fbd2d4" stroke="#111" stroke-width="0.62" stroke-linejoin="round"/>
<polygon points="93.03,367.25 100.47,361.69 98.69,361.29 91.30,366.78" fill="#f3757b" stroke="#111" stroke-width="0.62" stroke-linejoin="round"/>
<polygon points="117.00,366.58 124.73,362.16 122.94,359.29 115.25,363.39" fill="#f04e56" stroke="#111" stroke-width="0.62" stroke-linejoin="round"/>
<polygon points="60.33,375.83 67.24,372.17 65.68,371.53 58.77,374.36" fill="#fef7f7" stroke="#111" stroke-width="0.62" stroke-linejoin="round"/>
<polygon points="82.35,371.88 89.59,365.96 87.87,364.96 80.69,370.50" fill="#f7a2a6" stroke="#111" stroke-width="0.62" stroke-linejoin="round"/>
<polygon points="105.83,365.15 113.46,360.76 111.66,358.71 104.05,363.35" fill="#f04b53" stroke="#111" stroke-width="0.62" stroke-linejoin="round"/>
<polygon points="129.79,374.37 137.61,369.49 136.00,364.59 128.16,369.59" fill="#f4797f" stroke="#111" stroke-width="0.62" stroke-linejoin="round"/>
<polygon points="71.99,375.13 79.02,369.19 77.38,368.27 70.38,373.80" fill="#facacc" stroke="#111" stroke-width="0.62" stroke-linejoin="round"/>
<polygon points="94.76,367.68 102.26,362.28 100.47,361.69 93.03,367.25" fill="#f26a71" stroke="#111" stroke-width="0.62" stroke-linejoin="round"/>
<polygon points="118.71,370.33 126.47,365.54 124.73,362.16 117.00,366.58" fill="#f15e65" stroke="#111" stroke-width="0.62" stroke-linejoin="round"/>
<polygon points="61.89,377.31 68.80,372.87 67.24,372.17 60.33,375.83" fill="#fef0f1" stroke="#111" stroke-width="0.62" stroke-linejoin="round"/>
<polygon points="84.02,373.04 91.30,366.78 89.59,365.96 82.35,371.88" fill="#f79ca1" stroke="#111" stroke-width="0.62" stroke-linejoin="round"/>
<polygon points="107.58,367.82 115.25,363.39 113.46,360.76 105.83,365.15" fill="#f05159" stroke="#111" stroke-width="0.62" stroke-linejoin="round"/>
<polygon points="131.35,379.75 139.12,375.31 137.61,369.49 129.79,374.37" fill="#f69a9e" stroke="#111" stroke-width="0.62" stroke-linejoin="round"/>
<polygon points="51.84,376.73 58.77,374.36 57.22,372.87 50.30,374.86" fill="#ffffff" stroke="#111" stroke-width="0.62" stroke-linejoin="round"/>
<polygon points="73.61,376.72 80.69,370.50 79.02,369.19 71.99,375.13" fill="#fac6c8" stroke="#111" stroke-width="0.62" stroke-linejoin="round"/>
<polygon points="96.49,368.49 104.05,363.35 102.26,362.28 94.76,367.68" fill="#f26269" stroke="#111" stroke-width="0.62" stroke-linejoin="round"/>
<polygon points="120.39,374.58 128.16,369.59 126.47,365.54 118.71,370.33" fill="#f37278" stroke="#111" stroke-width="0.62" stroke-linejoin="round"/>
<polygon points="63.45,378.87 70.38,373.80 68.80,372.87 61.89,377.31" fill="#fdeaeb" stroke="#111" stroke-width="0.62" stroke-linejoin="round"/>
<polygon points="85.68,373.79 93.03,367.25 91.30,366.78 84.02,373.04" fill="#f69499" stroke="#111" stroke-width="0.62" stroke-linejoin="round"/>
<polygon points="109.31,371.26 117.00,366.58 115.25,363.39 107.58,367.82" fill="#f15d65" stroke="#111" stroke-width="0.62" stroke-linejoin="round"/>
<polygon points="132.86,385.53 140.55,381.76 139.12,375.31 131.35,379.75" fill="#fac0c3" stroke="#111" stroke-width="0.62" stroke-linejoin="round"/>
<polygon points="53.39,378.60 60.33,375.83 58.77,374.36 51.84,376.73" fill="#fffdfd" stroke="#111" stroke-width="0.62" stroke-linejoin="round"/>
<polygon points="75.23,378.36 82.35,371.88 80.69,370.50 73.61,376.72" fill="#fac3c6" stroke="#111" stroke-width="0.62" stroke-linejoin="round"/>
<polygon points="98.23,370.09 105.83,365.15 104.05,363.35 96.49,368.49" fill="#f15f66" stroke="#111" stroke-width="0.62" stroke-linejoin="round"/>
<polygon points="122.03,379.22 129.79,374.37 128.16,369.59 120.39,374.58" fill="#f58c91" stroke="#111" stroke-width="0.62" stroke-linejoin="round"/>
<polygon points="65.02,380.56 71.99,375.13 70.38,373.80 63.45,378.87" fill="#fde7e8" stroke="#111" stroke-width="0.62" stroke-linejoin="round"/>
<polygon points="87.35,374.41 94.76,367.68 93.03,367.25 85.68,373.79" fill="#f58a8f" stroke="#111" stroke-width="0.62" stroke-linejoin="round"/>
<polygon points="111.00,375.25 118.71,370.33 117.00,366.58 109.31,371.26" fill="#f36f76" stroke="#111" stroke-width="0.62" stroke-linejoin="round"/>
<polygon points="134.33,391.51 141.92,388.55 140.55,381.76 132.86,385.53" fill="#fdeaeb" stroke="#111" stroke-width="0.62" stroke-linejoin="round"/>
<polygon points="54.93,380.48 61.89,377.31 60.33,375.83 53.39,378.60" fill="#fffcfc" stroke="#111" stroke-width="0.62" stroke-linejoin="round"/>
<polygon points="76.85,379.84 84.02,373.04 82.35,371.88 75.23,378.36" fill="#fac0c3" stroke="#111" stroke-width="0.62" stroke-linejoin="round"/>
<polygon points="99.96,372.77 107.58,367.82 105.83,365.15 98.23,370.09" fill="#f2636a" stroke="#111" stroke-width="0.62" stroke-linejoin="round"/>
<polygon points="123.63,384.15 131.35,379.75 129.79,374.37 122.03,379.22" fill="#f8a9ad" stroke="#111" stroke-width="0.62" stroke-linejoin="round"/>
<polygon points="66.60,382.34 73.61,376.72 71.99,375.13 65.02,380.56" fill="#fde5e6" stroke="#111" stroke-width="0.62" stroke-linejoin="round"/>
<polygon points="89.02,375.28 96.49,368.49 94.76,367.68 87.35,374.41" fill="#f48186" stroke="#111" stroke-width="0.62" stroke-linejoin="round"/>
<polygon points="112.67,379.58 120.39,374.58 118.71,370.33 111.00,375.25" fill="#f5858b" stroke="#111" stroke-width="0.62" stroke-linejoin="round"/>
<polygon points="56.48,382.35 63.45,378.87 61.89,377.31 54.93,380.48" fill="#fffafb" stroke="#111" stroke-width="0.62" stroke-linejoin="round"/>
<polygon points="78.46,381.06 85.68,373.79 84.02,373.04 76.85,379.84" fill="#f9babd" stroke="#111" stroke-width="0.62" stroke-linejoin="round"/>
<polygon points="101.66,376.31 109.31,371.26 107.58,367.82 99.96,372.77" fill="#f37076" stroke="#111" stroke-width="0.62" stroke-linejoin="round"/>
<polygon points="125.20,389.27 132.86,385.53 131.35,379.75 123.63,384.15" fill="#fbcacd" stroke="#111" stroke-width="0.62" stroke-linejoin="round"/>
<polygon points="68.18,384.14 75.23,378.36 73.61,376.72 66.60,382.34" fill="#fde4e5" stroke="#111" stroke-width="0.62" stroke-linejoin="round"/>
<polygon points="90.71,376.82 98.23,370.09 96.49,368.49 89.02,375.28" fill="#f47c82" stroke="#111" stroke-width="0.62" stroke-linejoin="round"/>
<polygon points="114.32,384.01 122.03,379.22 120.39,374.58 112.67,379.58" fill="#f79ea2" stroke="#111" stroke-width="0.62" stroke-linejoin="round"/>
<polygon points="58.02,384.22 65.02,380.56 63.45,378.87 56.48,382.35" fill="#fff9fa" stroke="#111" stroke-width="0.62" stroke-linejoin="round"/>
<polygon points="80.07,382.17 87.35,374.41 85.68,373.79 78.46,381.06" fill="#f9b3b6" stroke="#111" stroke-width="0.62" stroke-linejoin="round"/>
<polygon points="103.35,380.37 111.00,375.25 109.31,371.26 101.66,376.31" fill="#f48388" stroke="#111" stroke-width="0.62" stroke-linejoin="round"/>
<polygon points="126.74,394.48 134.33,391.51 132.86,385.53 125.20,389.27" fill="#fdedee" stroke="#111" stroke-width="0.62" stroke-linejoin="round"/>
<polygon points="69.76,385.88 76.85,379.84 75.23,378.36 68.18,384.14" fill="#fde2e4" stroke="#111" stroke-width="0.62" stroke-linejoin="round"/>
<polygon points="92.40,379.35 99.96,372.77 98.23,370.09 90.71,376.82" fill="#f47f85" stroke="#111" stroke-width="0.62" stroke-linejoin="round"/>
<polygon points="115.95,388.47 123.63,384.15 122.03,379.22 114.32,384.01" fill="#f9b9bc" stroke="#111" stroke-width="0.62" stroke-linejoin="round"/>
<polygon points="59.56,386.09 66.60,382.34 65.02,380.56 58.02,384.22" fill="#fef9f9" stroke="#111" stroke-width="0.62" stroke-linejoin="round"/>
<polygon points="81.69,383.40 89.02,375.28 87.35,374.41 80.07,382.17" fill="#f8acaf" stroke="#111" stroke-width="0.62" stroke-linejoin="round"/>
<polygon points="105.01,384.59 112.67,379.58 111.00,375.25 103.35,380.37" fill="#f6999d" stroke="#111" stroke-width="0.62" stroke-linejoin="round"/>
<polygon points="71.34,387.54 78.46,381.06 76.85,379.84 69.76,385.88" fill="#fce0e1" stroke="#111" stroke-width="0.62" stroke-linejoin="round"/>
<polygon points="94.08,382.64 101.66,376.31 99.96,372.77 92.40,379.35" fill="#f58b90" stroke="#111" stroke-width="0.62" stroke-linejoin="round"/>
<polygon points="117.55,392.96 125.20,389.27 123.63,384.15 115.95,388.47" fill="#fbd4d6" stroke="#111" stroke-width="0.62" stroke-linejoin="round"/>
<polygon points="61.11,387.96 68.18,384.14 66.60,382.34 59.56,386.09" fill="#fef9f9" stroke="#111" stroke-width="0.62" stroke-linejoin="round"/>
<polygon points="83.33,385.03 90.71,376.82 89.02,375.28 81.69,383.40" fill="#f8a8ac" stroke="#111" stroke-width="0.62" stroke-linejoin="round"/>
<polygon points="106.67,388.70 114.32,384.01 112.67,379.58 105.01,384.59" fill="#f8b0b4" stroke="#111" stroke-width="0.62" stroke-linejoin="round"/>
<polygon points="72.91,389.15 80.07,382.17 78.46,381.06 71.34,387.54" fill="#fcdcde" stroke="#111" stroke-width="0.62" stroke-linejoin="round"/>
<polygon points="95.76,386.32 103.35,380.37 101.66,376.31 94.08,382.64" fill="#f79ca1" stroke="#111" stroke-width="0.62" stroke-linejoin="round"/>
<polygon points="119.14,397.45 126.74,394.48 125.20,389.27 117.55,392.96" fill="#fef1f1" stroke="#111" stroke-width="0.62" stroke-linejoin="round"/>
<polygon points="62.65,389.83 69.76,385.88 68.18,384.14 61.11,387.96" fill="#fef9f9" stroke="#111" stroke-width="0.62" stroke-linejoin="round"/>
<polygon points="84.97,387.27 92.40,379.35 90.71,376.82 83.33,385.03" fill="#f8aaad" stroke="#111" stroke-width="0.62" stroke-linejoin="round"/>
<polygon points="108.31,392.68 115.95,388.47 114.32,384.01 106.67,388.70" fill="#fac7ca" stroke="#111" stroke-width="0.62" stroke-linejoin="round"/>
<polygon points="74.49,390.80 81.69,383.40 80.07,382.17 72.91,389.15" fill="#fcd9da" stroke="#111" stroke-width="0.62" stroke-linejoin="round"/>
<polygon points="97.41,390.06 105.01,384.59 103.35,380.37 95.76,386.32" fill="#f8b0b4" stroke="#111" stroke-width="0.62" stroke-linejoin="round"/>
<polygon points="64.19,391.70 71.34,387.54 69.76,385.88 62.65,389.83" fill="#fef8f8" stroke="#111" stroke-width="0.62" stroke-linejoin="round"/>
<polygon points="86.61,389.97 94.08,382.64 92.40,379.35 84.97,387.27" fill="#f8b2b5" stroke="#111" stroke-width="0.62" stroke-linejoin="round"/>
<polygon points="109.93,396.57 117.55,392.96 115.95,388.47 108.31,392.68" fill="#fcdedf" stroke="#111" stroke-width="0.62" stroke-linejoin="round"/>
<polygon points="76.07,392.57 83.33,385.03 81.69,383.40 74.49,390.80" fill="#fcd6d8" stroke="#111" stroke-width="0.62" stroke-linejoin="round"/>
<polygon points="99.06,393.59 106.67,388.70 105.01,384.59 97.41,390.06" fill="#fac4c6" stroke="#111" stroke-width="0.62" stroke-linejoin="round"/>
<polygon points="65.74,393.57 72.91,389.15 71.34,387.54 64.19,391.70" fill="#fef7f7" stroke="#111" stroke-width="0.62" stroke-linejoin="round"/>
<polygon points="88.25,392.89 95.76,386.32 94.08,382.64 86.61,389.97" fill="#f9bec1" stroke="#111" stroke-width="0.62" stroke-linejoin="round"/>
<polygon points="111.55,400.42 119.14,397.45 117.55,392.96 109.93,396.57" fill="#fef4f4" stroke="#111" stroke-width="0.62" stroke-linejoin="round"/>
<polygon points="77.66,394.54 84.97,387.27 83.33,385.03 76.07,392.57" fill="#fcd7d9" stroke="#111" stroke-width="0.62" stroke-linejoin="round"/>
<polygon points="100.70,396.95 108.31,392.68 106.67,388.70 99.06,393.59" fill="#fbd6d8" stroke="#111" stroke-width="0.62" stroke-linejoin="round"/>
<polygon points="67.28,395.45 74.49,390.80 72.91,389.15 65.74,393.57" fill="#fef6f7" stroke="#111" stroke-width="0.62" stroke-linejoin="round"/>
<polygon points="89.89,395.81 97.41,390.06 95.76,386.32 88.25,392.89" fill="#fbcccf" stroke="#111" stroke-width="0.62" stroke-linejoin="round"/>
<polygon points="79.25,396.66 86.61,389.97 84.97,387.27 77.66,394.54" fill="#fcdbdd" stroke="#111" stroke-width="0.62" stroke-linejoin="round"/>
<polygon points="102.33,400.19 109.93,396.57 108.31,392.68 100.70,396.95" fill="#fde7e8" stroke="#111" stroke-width="0.62" stroke-linejoin="round"/>
<polygon points="68.82,397.32 76.07,392.57 74.49,390.80 67.28,395.45" fill="#fef6f6" stroke="#111" stroke-width="0.62" stroke-linejoin="round"/>
<polygon points="91.51,398.59 99.06,393.59 97.41,390.06 89.89,395.81" fill="#fcdadb" stroke="#111" stroke-width="0.62" stroke-linejoin="round"/>
<polygon points="80.84,398.84 88.25,392.89 86.61,389.97 79.25,396.66" fill="#fce1e3" stroke="#111" stroke-width="0.62" stroke-linejoin="round"/>
<polygon points="103.95,403.38 111.55,400.42 109.93,396.57 102.33,400.19" fill="#fef7f7" stroke="#111" stroke-width="0.62" stroke-linejoin="round"/>
<polygon points="70.37,399.19 77.66,394.54 76.07,392.57 68.82,397.32" fill="#fef6f6" stroke="#111" stroke-width="0.62" stroke-linejoin="round"/>
<polygon points="93.13,401.24 100.70,396.95 99.06,393.59 91.51,398.59" fill="#fde5e7" stroke="#111" stroke-width="0.62" stroke-linejoin="round"/>
<polygon points="82.43,401.01 89.89,395.81 88.25,392.89 80.84,398.84" fill="#fde8e9" stroke="#111" stroke-width="0.62" stroke-linejoin="round"/>
<polygon points="71.91,401.06 79.25,396.66 77.66,394.54 70.37,399.19" fill="#fef7f7" stroke="#111" stroke-width="0.62" stroke-linejoin="round"/>
<polygon points="94.75,403.82 102.33,400.19 100.70,396.95 93.13,401.24" fill="#fef0f1" stroke="#111" stroke-width="0.62" stroke-linejoin="round"/>
<polygon points="84.02,403.14 91.51,398.59 89.89,395.81 82.43,401.01" fill="#feeeef" stroke="#111" stroke-width="0.62" stroke-linejoin="round"/>
<polygon points="73.45,402.93 80.84,398.84 79.25,396.66 71.91,401.06" fill="#fef8f9" stroke="#111" stroke-width="0.62" stroke-linejoin="round"/>
<polygon points="96.36,406.35 103.95,403.38 102.33,400.19 94.75,403.82" fill="#fffafa" stroke="#111" stroke-width="0.62" stroke-linejoin="round"/>
<polygon points="85.60,405.22 93.13,401.24 91.51,398.59 84.02,403.14" fill="#fef4f4" stroke="#111" stroke-width="0.62" stroke-linejoin="round"/>
<polygon points="75.00,404.80 82.43,401.01 80.84,398.84 73.45,402.93" fill="#fffafa" stroke="#111" stroke-width="0.62" stroke-linejoin="round"/>
<polygon points="87.18,407.28 94.75,403.82 93.13,401.24 85.60,405.22" fill="#fef8f9" stroke="#111" stroke-width="0.62" stroke-linejoin="round"/>
<polygon points="76.54,406.67 84.02,403.14 82.43,401.01 75.00,404.80" fill="#fffbfb" stroke="#111" stroke-width="0.62" stroke-linejoin="round"/>
<polygon points="88.76,409.32 96.36,406.35 94.75,403.82 87.18,407.28" fill="#fffdfd" stroke="#111" stroke-width="0.62" stroke-linejoin="round"/>
<polygon points="78.08,408.54 85.60,405.22 84.02,403.14 76.54,406.67" fill="#fffcfd" stroke="#111" stroke-width="0.62" stroke-linejoin="round"/>
<polygon points="79.63,410.41 87.18,407.28 85.60,405.22 78.08,408.54" fill="#fffefe" stroke="#111" stroke-width="0.62" stroke-linejoin="round"/>
<polygon points="81.17,412.29 88.76,409.32 87.18,407.28 79.63,410.41" fill="#ffffff" stroke="#111" stroke-width="0.62" stroke-linejoin="round"/>
<line x1="79.80" y1="446.70" x2="78.30" y2="386.50" stroke="#222" stroke-width="0.7"/>
<line x1="78.30" y1="386.50" x2="41.40" y2="342.70" stroke="#222" stroke-width="0.7"/>
<line x1="78.30" y1="386.50" x2="151.90" y2="357.80" stroke="#222" stroke-width="0.7"/>
<line x1="101.00" y1="692.00" x2="43.30" y2="711.00" stroke="#222" stroke-width="0.7" stroke-dasharray="1.2,1.6"/>
<line x1="101.00" y1="692.00" x2="139.60" y2="727.70" stroke="#222" stroke-width="0.7" stroke-dasharray="1.2,1.6"/>
<line x1="101.00" y1="692.00" x2="102.50" y2="633.70" stroke="#222" stroke-width="0.7" stroke-dasharray="1.2,1.6"/>
<line x1="37.20" y1="650.50" x2="102.50" y2="633.70" stroke="#222" stroke-width="0.7"/>
<line x1="102.50" y1="633.70" x2="145.80" y2="664.70" stroke="#222" stroke-width="0.7"/>
<line x1="43.30" y1="711.00" x2="37.20" y2="650.50" stroke="#222" stroke-width="0.7"/>
<line x1="139.60" y1="727.70" x2="145.80" y2="664.70" stroke="#222" stroke-width="0.7"/>
<line x1="43.30" y1="711.00" x2="74.80" y2="753.10" stroke="#222" stroke-width="0.7"/>
<line x1="74.80" y1="753.10" x2="139.60" y2="727.70" stroke="#222" stroke-width="0.7"/>
<polygon points="95.08,654.29 102.10,652.18 100.86,648.60 93.82,650.94" fill="#ef4850" stroke="#111" stroke-width="0.62" stroke-linejoin="round"/>
<polygon points="96.34,657.36 103.35,655.32 102.10,652.18 95.08,654.29" fill="#f26269" stroke="#111" stroke-width="0.62" stroke-linejoin="round"/>
<polygon points="97.60,659.66 104.62,657.61 103.35,655.32 96.34,657.36" fill="#f3747b" stroke="#111" stroke-width="0.62" stroke-linejoin="round"/>
<polygon points="98.87,660.79 105.92,658.59 104.62,657.61 97.60,659.66" fill="#f47b81" stroke="#111" stroke-width="0.62" stroke-linejoin="round"/>
<polygon points="88.06,656.57 95.08,654.29 93.82,650.94 86.79,653.46" fill="#f04c54" stroke="#111" stroke-width="0.62" stroke-linejoin="round"/>
<polygon points="100.17,660.77 107.27,658.07 105.92,658.59 98.87,660.79" fill="#f3747a" stroke="#111" stroke-width="0.62" stroke-linejoin="round"/>
<polygon points="89.32,659.47 96.34,657.36 95.08,654.29 88.06,656.57" fill="#f2636a" stroke="#111" stroke-width="0.62" stroke-linejoin="round"/>
<polygon points="101.48,660.20 108.66,656.85 107.27,658.07 100.17,660.77" fill="#f26269" stroke="#111" stroke-width="0.62" stroke-linejoin="round"/>
<polygon points="90.57,661.77 97.60,659.66 96.34,657.36 89.32,659.47" fill="#f3747b" stroke="#111" stroke-width="0.62" stroke-linejoin="round"/>
<polygon points="102.80,659.89 110.04,656.01 108.66,656.85 101.48,660.20" fill="#f04e55" stroke="#111" stroke-width="0.62" stroke-linejoin="round"/>
<polygon points="91.82,663.12 98.87,660.79 97.60,659.66 90.57,661.77" fill="#f47c82" stroke="#111" stroke-width="0.62" stroke-linejoin="round"/>
<polygon points="81.05,659.18 88.06,656.57 86.79,653.46 79.78,656.33" fill="#f0525a" stroke="#111" stroke-width="0.62" stroke-linejoin="round"/>
<polygon points="104.10,660.65 111.37,656.62 110.04,656.01 102.80,659.89" fill="#ef424b" stroke="#111" stroke-width="0.62" stroke-linejoin="round"/>
<polygon points="93.08,663.59 100.17,660.77 98.87,660.79 91.82,663.12" fill="#f4787e" stroke="#111" stroke-width="0.62" stroke-linejoin="round"/>
<polygon points="82.31,661.85 89.32,659.47 88.06,656.57 81.05,659.18" fill="#f2666d" stroke="#111" stroke-width="0.62" stroke-linejoin="round"/>
<polygon points="105.34,662.99 112.61,659.37 111.37,656.62 104.10,660.65" fill="#ef4951" stroke="#111" stroke-width="0.62" stroke-linejoin="round"/>
<polygon points="94.34,663.64 101.48,660.20 100.17,660.77 93.08,663.59" fill="#f26c72" stroke="#111" stroke-width="0.62" stroke-linejoin="round"/>
<polygon points="83.55,664.11 90.57,661.77 89.32,659.47 82.31,661.85" fill="#f3767c" stroke="#111" stroke-width="0.62" stroke-linejoin="round"/>
<polygon points="106.55,666.20 113.78,663.29 112.61,659.37 105.34,662.99" fill="#f15f66" stroke="#111" stroke-width="0.62" stroke-linejoin="round"/>
<polygon points="95.61,663.83 102.80,659.89 101.48,660.20 94.34,663.64" fill="#f15e65" stroke="#111" stroke-width="0.62" stroke-linejoin="round"/>
<polygon points="84.78,665.71 91.82,663.12 90.57,661.77 83.55,664.11" fill="#f47f84" stroke="#111" stroke-width="0.62" stroke-linejoin="round"/>
<polygon points="107.76,669.34 114.95,667.00 113.78,663.29 106.55,666.20" fill="#f47a80" stroke="#111" stroke-width="0.62" stroke-linejoin="round"/>
<polygon points="74.07,662.28 81.05,659.18 79.78,656.33 72.82,659.75" fill="#f15e65" stroke="#111" stroke-width="0.62" stroke-linejoin="round"/>
<polygon points="96.87,664.73 104.10,660.65 102.80,659.89 95.61,663.83" fill="#f1565d" stroke="#111" stroke-width="0.62" stroke-linejoin="round"/>
<polygon points="86.01,666.65 93.08,663.59 91.82,663.12 84.78,665.71" fill="#f47e84" stroke="#111" stroke-width="0.62" stroke-linejoin="round"/>
<polygon points="109.00,671.20 116.19,669.13 114.95,667.00 107.76,669.34" fill="#f58d92" stroke="#111" stroke-width="0.62" stroke-linejoin="round"/>
<polygon points="75.32,664.69 82.31,661.85 81.05,659.18 74.07,662.28" fill="#f36e75" stroke="#111" stroke-width="0.62" stroke-linejoin="round"/>
<polygon points="98.11,666.69 105.34,662.99 104.10,660.65 96.87,664.73" fill="#f15a62" stroke="#111" stroke-width="0.62" stroke-linejoin="round"/>
<polygon points="87.23,667.26 94.34,663.64 93.08,663.59 86.01,666.65" fill="#f3787e" stroke="#111" stroke-width="0.62" stroke-linejoin="round"/>
<polygon points="110.33,670.91 117.56,668.72 116.19,669.13 109.00,671.20" fill="#f58a90" stroke="#111" stroke-width="0.62" stroke-linejoin="round"/>
<polygon points="76.55,666.87 83.55,664.11 82.31,661.85 75.32,664.69" fill="#f47c82" stroke="#111" stroke-width="0.62" stroke-linejoin="round"/>
<polygon points="99.34,669.23 106.55,666.20 105.34,662.99 98.11,666.69" fill="#f26a71" stroke="#111" stroke-width="0.62" stroke-linejoin="round"/>
<polygon points="88.46,667.91 95.61,663.83 94.34,663.64 87.23,667.26" fill="#f36f76" stroke="#111" stroke-width="0.62" stroke-linejoin="round"/>
<polygon points="111.72,669.10 119.03,666.67 117.56,668.72 110.33,670.91" fill="#f37278" stroke="#111" stroke-width="0.62" stroke-linejoin="round"/>
<polygon points="77.77,668.68 84.78,665.71 83.55,664.11 76.55,666.87" fill="#f5858a" stroke="#111" stroke-width="0.62" stroke-linejoin="round"/>
<polygon points="100.56,671.70 107.76,669.34 106.55,666.20 99.34,669.23" fill="#f47e84" stroke="#111" stroke-width="0.62" stroke-linejoin="round"/>
<polygon points="67.20,667.13 74.07,662.28 72.82,659.75 65.98,664.98" fill="#f3767c" stroke="#111" stroke-width="0.62" stroke-linejoin="round"/>
<polygon points="89.69,668.93 96.87,664.73 95.61,663.83 88.46,667.91" fill="#f26a71" stroke="#111" stroke-width="0.62" stroke-linejoin="round"/>
<polygon points="113.14,667.26 120.53,664.36 119.03,666.67 111.72,669.10" fill="#f05058" stroke="#111" stroke-width="0.62" stroke-linejoin="round"/>
<polygon points="78.97,670.07 86.01,666.65 84.78,665.71 77.77,668.68" fill="#f5888d" stroke="#111" stroke-width="0.62" stroke-linejoin="round"/>
<polygon points="101.80,673.32 109.00,671.20 107.76,669.34 100.56,671.70" fill="#f58b90" stroke="#111" stroke-width="0.62" stroke-linejoin="round"/>
<polygon points="68.42,669.21 75.32,664.69 74.07,662.28 67.20,667.13" fill="#f48288" stroke="#111" stroke-width="0.62" stroke-linejoin="round"/>
<polygon points="90.92,670.56 98.11,666.69 96.87,664.73 89.69,668.93" fill="#f36d74" stroke="#111" stroke-width="0.62" stroke-linejoin="round"/>
<polygon points="114.50,666.71 121.98,663.17 120.53,664.36 113.14,667.26" fill="#ee353e" stroke="#111" stroke-width="0.62" stroke-linejoin="round"/>
<polygon points="80.17,671.17 87.23,667.26 86.01,666.65 78.97,670.07" fill="#f5868c" stroke="#111" stroke-width="0.62" stroke-linejoin="round"/>
<polygon points="103.08,673.12 110.33,670.91 109.00,671.20 101.80,673.32" fill="#f5878d" stroke="#111" stroke-width="0.62" stroke-linejoin="round"/>
<polygon points="69.62,671.19 76.55,666.87 75.32,664.69 68.42,669.21" fill="#f58d92" stroke="#111" stroke-width="0.62" stroke-linejoin="round"/>
<polygon points="92.14,672.49 99.34,669.23 98.11,666.69 90.92,670.56" fill="#f3777d" stroke="#111" stroke-width="0.62" stroke-linejoin="round"/>
<polygon points="115.77,668.19 123.30,664.10 121.98,663.17 114.50,666.71" fill="#ed2b35" stroke="#111" stroke-width="0.62" stroke-linejoin="round"/>
<polygon points="81.37,672.18 88.46,667.91 87.23,667.26 80.17,671.17" fill="#f48388" stroke="#111" stroke-width="0.62" stroke-linejoin="round"/>
<polygon points="104.41,671.56 111.72,669.10 110.33,670.91 103.08,673.12" fill="#f37077" stroke="#111" stroke-width="0.62" stroke-linejoin="round"/>
<polygon points="70.82,673.02 77.77,668.68 76.55,666.87 69.62,671.19" fill="#f6969a" stroke="#111" stroke-width="0.62" stroke-linejoin="round"/>
<polygon points="93.36,674.28 100.56,671.70 99.34,669.23 92.14,672.49" fill="#f48388" stroke="#111" stroke-width="0.62" stroke-linejoin="round"/>
<polygon points="116.96,671.18 124.52,666.64 123.30,664.10 115.77,668.19" fill="#ee353e" stroke="#111" stroke-width="0.62" stroke-linejoin="round"/>
<polygon points="60.51,673.57 67.20,667.13 65.98,664.98 59.34,671.83" fill="#f7a1a5" stroke="#111" stroke-width="0.62" stroke-linejoin="round"/>
<polygon points="82.57,673.32 89.69,668.93 88.46,667.91 81.37,672.18" fill="#f48086" stroke="#111" stroke-width="0.62" stroke-linejoin="round"/>
<polygon points="105.74,670.32 113.14,667.26 111.72,669.10 104.41,671.56" fill="#f0535a" stroke="#111" stroke-width="0.62" stroke-linejoin="round"/>
<polygon points="72.01,674.63 78.97,670.07 77.77,668.68 70.82,673.02" fill="#f69b9f" stroke="#111" stroke-width="0.62" stroke-linejoin="round"/>
<polygon points="94.59,675.52 101.80,673.32 100.56,671.70 93.36,674.28" fill="#f58a8f" stroke="#111" stroke-width="0.62" stroke-linejoin="round"/>
<polygon points="118.11,674.79 125.69,669.88 124.52,666.64 116.96,671.18" fill="#f04c54" stroke="#111" stroke-width="0.62" stroke-linejoin="round"/>
<polygon points="61.68,675.29 68.42,669.21 67.20,667.13 60.51,673.57" fill="#f8a9ac" stroke="#111" stroke-width="0.62" stroke-linejoin="round"/>
<polygon points="83.77,674.69 90.92,670.56 89.69,668.93 82.57,673.32" fill="#f48287" stroke="#111" stroke-width="0.62" stroke-linejoin="round"/>
<polygon points="107.04,670.40 114.50,666.71 113.14,667.26 105.74,670.32" fill="#ee3d46" stroke="#111" stroke-width="0.62" stroke-linejoin="round"/>
<polygon points="73.18,676.00 80.17,671.17 78.97,670.07 72.01,674.63" fill="#f79da1" stroke="#111" stroke-width="0.62" stroke-linejoin="round"/>
<polygon points="95.83,675.41 103.08,673.12 101.80,673.32 94.59,675.52" fill="#f5858a" stroke="#111" stroke-width="0.62" stroke-linejoin="round"/>
<polygon points="119.26,678.16 126.86,672.89 125.69,669.88 118.11,674.79" fill="#f2656b" stroke="#111" stroke-width="0.62" stroke-linejoin="round"/>
<polygon points="62.84,676.97 69.62,671.19 68.42,669.21 61.68,675.29" fill="#f8b0b3" stroke="#111" stroke-width="0.62" stroke-linejoin="round"/>
<polygon points="84.97,676.09 92.14,672.49 90.92,670.56 83.77,674.69" fill="#f5878c" stroke="#111" stroke-width="0.62" stroke-linejoin="round"/>
<polygon points="108.28,672.39 115.77,668.19 114.50,666.71 107.04,670.40" fill="#ee3942" stroke="#111" stroke-width="0.62" stroke-linejoin="round"/>
<polygon points="74.35,677.24 81.37,672.18 80.17,671.17 73.18,676.00" fill="#f79ca1" stroke="#111" stroke-width="0.62" stroke-linejoin="round"/>
<polygon points="97.10,674.29 104.41,671.56 103.08,673.12 95.83,675.41" fill="#f37076" stroke="#111" stroke-width="0.62" stroke-linejoin="round"/>
<polygon points="120.45,680.60 128.09,674.99 126.86,672.89 119.26,678.16" fill="#f3777d" stroke="#111" stroke-width="0.62" stroke-linejoin="round"/>
<polygon points="64.00,678.61 70.82,673.02 69.62,671.19 62.84,676.97" fill="#f9b6b9" stroke="#111" stroke-width="0.62" stroke-linejoin="round"/>
<polygon points="86.17,677.24 93.36,674.28 92.14,672.49 84.97,676.09" fill="#f58b90" stroke="#111" stroke-width="0.62" stroke-linejoin="round"/>
<polygon points="109.45,675.75 116.96,671.18 115.77,668.19 108.28,672.39" fill="#ef4851" stroke="#111" stroke-width="0.62" stroke-linejoin="round"/>
<polygon points="53.91,679.70 60.51,673.57 59.34,671.83 52.79,678.27" fill="#fbd3d5" stroke="#111" stroke-width="0.62" stroke-linejoin="round"/>
<polygon points="75.52,678.45 82.57,673.32 81.37,672.18 74.35,677.24" fill="#f79ca0" stroke="#111" stroke-width="0.62" stroke-linejoin="round"/>
<polygon points="98.36,673.74 105.74,670.32 104.41,671.56 97.10,674.29" fill="#f1575f" stroke="#111" stroke-width="0.62" stroke-linejoin="round"/>
<polygon points="121.68,682.34 129.35,676.51 128.09,674.99 120.45,680.60" fill="#f48186" stroke="#111" stroke-width="0.62" stroke-linejoin="round"/>
<polygon points="65.15,680.16 72.01,674.63 70.82,673.02 64.00,678.61" fill="#f9bbbe" stroke="#111" stroke-width="0.62" stroke-linejoin="round"/>
<polygon points="87.37,677.86 94.59,675.52 93.36,674.28 86.17,677.24" fill="#f58b91" stroke="#111" stroke-width="0.62" stroke-linejoin="round"/>
<polygon points="110.59,679.67 118.11,674.79 116.96,671.18 109.45,675.75" fill="#f2636a" stroke="#111" stroke-width="0.62" stroke-linejoin="round"/>
<polygon points="55.03,681.12 61.68,675.29 60.51,673.57 53.91,679.70" fill="#fcd6d8" stroke="#111" stroke-width="0.62" stroke-linejoin="round"/>
<polygon points="76.69,679.69 83.77,674.69 82.57,673.32 75.52,678.45" fill="#f79ca1" stroke="#111" stroke-width="0.62" stroke-linejoin="round"/>
<polygon points="99.61,674.41 107.04,670.40 105.74,670.32 98.36,673.74" fill="#ef4850" stroke="#111" stroke-width="0.62" stroke-linejoin="round"/>
<polygon points="122.93,683.87 130.62,677.98 129.35,676.51 121.68,682.34" fill="#f5868c" stroke="#111" stroke-width="0.62" stroke-linejoin="round"/>
<polygon points="66.30,681.57 73.18,676.00 72.01,674.63 65.15,680.16" fill="#f9bdc0" stroke="#111" stroke-width="0.62" stroke-linejoin="round"/>
<polygon points="88.57,677.80 95.83,675.41 94.59,675.52 87.37,677.86" fill="#f48389" stroke="#111" stroke-width="0.62" stroke-linejoin="round"/>
<polygon points="111.73,683.31 119.26,678.16 118.11,674.79 110.59,679.67" fill="#f47f84" stroke="#111" stroke-width="0.62" stroke-linejoin="round"/>
<polygon points="56.14,682.53 62.84,676.97 61.68,675.29 55.03,681.12" fill="#fcd9db" stroke="#111" stroke-width="0.62" stroke-linejoin="round"/>
<polygon points="77.86,680.81 84.97,676.09 83.77,674.69 76.69,679.69" fill="#f79da2" stroke="#111" stroke-width="0.62" stroke-linejoin="round"/>
<polygon points="100.82,676.81 108.28,672.39 107.04,670.40 99.61,674.41" fill="#f04a52" stroke="#111" stroke-width="0.62" stroke-linejoin="round"/>
<polygon points="124.14,685.70 131.84,679.99 130.62,677.98 122.93,683.87" fill="#f58d92" stroke="#111" stroke-width="0.62" stroke-linejoin="round"/>
<polygon points="67.44,682.89 74.35,677.24 73.18,676.00 66.30,681.57" fill="#fabec1" stroke="#111" stroke-width="0.62" stroke-linejoin="round"/>
<polygon points="89.78,677.54 97.10,674.29 95.83,675.41 88.57,677.80" fill="#f37278" stroke="#111" stroke-width="0.62" stroke-linejoin="round"/>
<polygon points="112.91,686.00 120.45,680.60 119.26,678.16 111.73,683.31" fill="#f69499" stroke="#111" stroke-width="0.62" stroke-linejoin="round"/>
<polygon points="101.99,680.42 109.45,675.75 108.28,672.39 100.82,676.81" fill="#f15d64" stroke="#111" stroke-width="0.62" stroke-linejoin="round"/>
<polygon points="57.26,683.95 64.00,678.61 62.84,676.97 56.14,682.53" fill="#fcdcde" stroke="#111" stroke-width="0.62" stroke-linejoin="round"/>
<polygon points="79.03,681.65 86.17,677.24 84.97,676.09 77.86,680.81" fill="#f79ca1" stroke="#111" stroke-width="0.62" stroke-linejoin="round"/>
<polygon points="125.31,688.23 132.98,682.96 131.84,679.99 124.14,685.70" fill="#f69ba0" stroke="#111" stroke-width="0.62" stroke-linejoin="round"/>
<polygon points="47.22,683.55 53.91,679.70 52.79,678.27 46.14,682.23" fill="#fef5f5" stroke="#111" stroke-width="0.62" stroke-linejoin="round"/>
<polygon points="68.58,684.15 75.52,678.45 74.35,677.24 67.44,682.89" fill="#fabfc2" stroke="#111" stroke-width="0.62" stroke-linejoin="round"/>
<polygon points="91.00,677.70 98.36,673.74 97.10,674.29 89.78,677.54" fill="#f16067" stroke="#111" stroke-width="0.62" stroke-linejoin="round"/>
<polygon points="114.11,687.93 121.68,682.34 120.45,680.60 112.91,686.00" fill="#f7a0a4" stroke="#111" stroke-width="0.62" stroke-linejoin="round"/>
<polygon points="58.37,685.34 65.15,680.16 64.00,678.61 57.26,683.95" fill="#fcdfe0" stroke="#111" stroke-width="0.62" stroke-linejoin="round"/>
<polygon points="80.18,681.92 87.37,677.86 86.17,677.24 79.03,681.65" fill="#f6979c" stroke="#111" stroke-width="0.62" stroke-linejoin="round"/>
<polygon points="103.14,684.49 110.59,679.67 109.45,675.75 101.99,680.42" fill="#f4797f" stroke="#111" stroke-width="0.62" stroke-linejoin="round"/>
<polygon points="126.43,691.37 134.05,686.76 132.98,682.96 125.31,688.23" fill="#f8b1b5" stroke="#111" stroke-width="0.62" stroke-linejoin="round"/>
<polygon points="48.30,684.87 55.03,681.12 53.91,679.70 47.22,683.55" fill="#fef5f6" stroke="#111" stroke-width="0.62" stroke-linejoin="round"/>
<polygon points="69.72,685.37 76.69,679.69 75.52,678.45 68.58,684.15" fill="#fabfc2" stroke="#111" stroke-width="0.62" stroke-linejoin="round"/>
<polygon points="92.21,678.90 99.61,674.41 98.36,673.74 91.00,677.70" fill="#f1585f" stroke="#111" stroke-width="0.62" stroke-linejoin="round"/>
<polygon points="115.32,689.50 122.93,683.87 121.68,682.34 114.11,687.93" fill="#f7a6aa" stroke="#111" stroke-width="0.62" stroke-linejoin="round"/>
<polygon points="59.48,686.68 66.30,681.57 65.15,680.16 58.37,685.34" fill="#fce1e2" stroke="#111" stroke-width="0.62" stroke-linejoin="round"/>
<polygon points="81.34,682.09 88.57,677.80 87.37,677.86 80.18,681.92" fill="#f58d92" stroke="#111" stroke-width="0.62" stroke-linejoin="round"/>
<polygon points="104.28,688.23 111.73,683.31 110.59,679.67 103.14,684.49" fill="#f6979c" stroke="#111" stroke-width="0.62" stroke-linejoin="round"/>
<polygon points="127.51,694.93 135.05,691.13 134.05,686.76 126.43,691.37" fill="#fbced0" stroke="#111" stroke-width="0.62" stroke-linejoin="round"/>
<polygon points="49.38,686.18 56.14,682.53 55.03,681.12 48.30,684.87" fill="#fef6f7" stroke="#111" stroke-width="0.62" stroke-linejoin="round"/>
<polygon points="70.85,686.48 77.86,680.81 76.69,679.69 69.72,685.37" fill="#f9bec1" stroke="#111" stroke-width="0.62" stroke-linejoin="round"/>
<polygon points="93.40,681.57 100.82,676.81 99.61,674.41 92.21,678.90" fill="#f15e65" stroke="#111" stroke-width="0.62" stroke-linejoin="round"/>
<polygon points="116.53,691.16 124.14,685.70 122.93,683.87 115.32,689.50" fill="#f8acb0" stroke="#111" stroke-width="0.62" stroke-linejoin="round"/>
<polygon points="60.59,688.00 67.44,682.89 66.30,681.57 59.48,686.68" fill="#fce1e3" stroke="#111" stroke-width="0.62" stroke-linejoin="round"/>
<polygon points="82.51,682.71 89.78,677.54 88.57,677.80 81.34,682.09" fill="#f48186" stroke="#111" stroke-width="0.62" stroke-linejoin="round"/>
<polygon points="105.44,691.04 112.91,686.00 111.73,683.31 104.28,688.23" fill="#f8aeb2" stroke="#111" stroke-width="0.62" stroke-linejoin="round"/>
<polygon points="128.56,698.70 136.01,695.78 135.05,691.13 127.51,694.93" fill="#feeeef" stroke="#111" stroke-width="0.62" stroke-linejoin="round"/>
<polygon points="94.58,685.23 101.99,680.42 100.82,676.81 93.40,681.57" fill="#f3737a" stroke="#111" stroke-width="0.62" stroke-linejoin="round"/>
<polygon points="50.46,687.50 57.26,683.95 56.14,682.53 49.38,686.18" fill="#fef7f7" stroke="#111" stroke-width="0.62" stroke-linejoin="round"/>
<polygon points="71.98,687.40 79.03,681.65 77.86,680.81 70.85,686.48" fill="#f9bbbe" stroke="#111" stroke-width="0.62" stroke-linejoin="round"/>
<polygon points="117.71,693.29 125.31,688.23 124.14,685.70 116.53,691.16" fill="#f9b7ba" stroke="#111" stroke-width="0.62" stroke-linejoin="round"/>
<polygon points="61.70,689.29 68.58,684.15 67.44,682.89 60.59,688.00" fill="#fde2e3" stroke="#111" stroke-width="0.62" stroke-linejoin="round"/>
<polygon points="83.69,683.43 91.00,677.70 89.78,677.54 82.51,682.71" fill="#f3777d" stroke="#111" stroke-width="0.62" stroke-linejoin="round"/>
<polygon points="106.62,693.06 114.11,687.93 112.91,686.00 105.44,691.04" fill="#f9bcbf" stroke="#111" stroke-width="0.62" stroke-linejoin="round"/>
<polygon points="51.54,688.82 58.37,685.34 57.26,683.95 50.46,687.50" fill="#fef7f8" stroke="#111" stroke-width="0.62" stroke-linejoin="round"/>
<polygon points="73.10,687.95 80.18,681.92 79.03,681.65 71.98,687.40" fill="#f9b5b8" stroke="#111" stroke-width="0.62" stroke-linejoin="round"/>
<polygon points="95.74,689.21 103.14,684.49 101.99,680.42 94.58,685.23" fill="#f69196" stroke="#111" stroke-width="0.62" stroke-linejoin="round"/>
<polygon points="118.87,695.83 126.43,691.37 125.31,688.23 117.71,693.29" fill="#fac7c9" stroke="#111" stroke-width="0.62" stroke-linejoin="round"/>
<polygon points="62.80,690.55 69.72,685.37 68.58,684.15 61.70,689.29" fill="#fce2e3" stroke="#111" stroke-width="0.62" stroke-linejoin="round"/>
<polygon points="84.87,684.93 92.21,678.90 91.00,677.70 83.69,683.43" fill="#f3737a" stroke="#111" stroke-width="0.62" stroke-linejoin="round"/>
<polygon points="107.81,694.64 115.32,689.50 114.11,687.93 106.62,693.06" fill="#fac3c5" stroke="#111" stroke-width="0.62" stroke-linejoin="round"/>
<polygon points="52.62,690.13 59.48,686.68 58.37,685.34 51.54,688.82" fill="#fef8f8" stroke="#111" stroke-width="0.62" stroke-linejoin="round"/>
<polygon points="74.22,688.58 81.34,682.09 80.18,681.92 73.10,687.95" fill="#f8acaf" stroke="#111" stroke-width="0.62" stroke-linejoin="round"/>
<polygon points="96.89,692.82 104.28,688.23 103.14,684.49 95.74,689.21" fill="#f8aeb2" stroke="#111" stroke-width="0.62" stroke-linejoin="round"/>
<polygon points="119.99,698.65 127.51,694.93 126.43,691.37 118.87,695.83" fill="#fcdbdd" stroke="#111" stroke-width="0.62" stroke-linejoin="round"/>
<polygon points="63.91,691.78 70.85,686.48 69.72,685.37 62.80,690.55" fill="#fce1e2" stroke="#111" stroke-width="0.62" stroke-linejoin="round"/>
<polygon points="86.05,687.48 93.40,681.57 92.21,678.90 84.87,684.93" fill="#f47c82" stroke="#111" stroke-width="0.62" stroke-linejoin="round"/>
<polygon points="109.01,696.17 116.53,691.16 115.32,689.50 107.81,694.64" fill="#fac8ca" stroke="#111" stroke-width="0.62" stroke-linejoin="round"/>
<polygon points="53.70,691.45 60.59,688.00 59.48,686.68 52.62,690.13" fill="#fef8f9" stroke="#111" stroke-width="0.62" stroke-linejoin="round"/>
<polygon points="75.36,689.67 82.51,682.71 81.34,682.09 74.22,688.58" fill="#f7a5a9" stroke="#111" stroke-width="0.62" stroke-linejoin="round"/>
<polygon points="98.05,695.55 105.44,691.04 104.28,688.23 96.89,692.82" fill="#fac5c8" stroke="#111" stroke-width="0.62" stroke-linejoin="round"/>
<polygon points="121.10,701.61 128.56,698.70 127.51,694.93 119.99,698.65" fill="#fef3f3" stroke="#111" stroke-width="0.62" stroke-linejoin="round"/>
<polygon points="87.23,690.73 94.58,685.23 93.40,681.57 86.05,687.48" fill="#f69095" stroke="#111" stroke-width="0.62" stroke-linejoin="round"/>
<polygon points="65.01,692.94 71.98,687.40 70.85,686.48 63.91,691.78" fill="#fcdfe1" stroke="#111" stroke-width="0.62" stroke-linejoin="round"/>
<polygon points="110.19,697.96 117.71,693.29 116.53,691.16 109.01,696.17" fill="#fbcfd1" stroke="#111" stroke-width="0.62" stroke-linejoin="round"/>
<polygon points="54.78,692.77 61.70,689.29 60.59,688.00 53.70,691.45" fill="#fef8f9" stroke="#111" stroke-width="0.62" stroke-linejoin="round"/>
<polygon points="76.50,690.73 83.69,683.43 82.51,682.71 75.36,689.67" fill="#f7a1a5" stroke="#111" stroke-width="0.62" stroke-linejoin="round"/>
<polygon points="99.21,697.53 106.62,693.06 105.44,691.04 98.05,695.55" fill="#fbd2d4" stroke="#111" stroke-width="0.62" stroke-linejoin="round"/>
<polygon points="66.11,693.98 73.10,687.95 71.98,687.40 65.01,692.94" fill="#fcdbdd" stroke="#111" stroke-width="0.62" stroke-linejoin="round"/>
<polygon points="88.39,694.16 95.74,689.21 94.58,685.23 87.23,690.73" fill="#f8abaf" stroke="#111" stroke-width="0.62" stroke-linejoin="round"/>
<polygon points="111.35,700.01 118.87,695.83 117.71,693.29 110.19,697.96" fill="#fcd9db" stroke="#111" stroke-width="0.62" stroke-linejoin="round"/>
<polygon points="55.86,694.08 62.80,690.55 61.70,689.29 54.78,692.77" fill="#fef8f9" stroke="#111" stroke-width="0.62" stroke-linejoin="round"/>
<polygon points="77.65,692.23 84.87,684.93 83.69,683.43 76.50,690.73" fill="#f7a0a5" stroke="#111" stroke-width="0.62" stroke-linejoin="round"/>
<polygon points="100.38,699.09 107.81,694.64 106.62,693.06 99.21,697.53" fill="#fcd9db" stroke="#111" stroke-width="0.62" stroke-linejoin="round"/>
<polygon points="67.21,695.07 74.22,688.58 73.10,687.95 66.11,693.98" fill="#fcd6d8" stroke="#111" stroke-width="0.62" stroke-linejoin="round"/>
<polygon points="89.55,697.25 96.89,692.82 95.74,689.21 88.39,694.16" fill="#fac5c7" stroke="#111" stroke-width="0.62" stroke-linejoin="round"/>
<polygon points="112.51,702.22 119.99,698.65 118.87,695.83 111.35,700.01" fill="#fde7e8" stroke="#111" stroke-width="0.62" stroke-linejoin="round"/>
<polygon points="56.94,695.40 63.91,691.78 62.80,690.55 55.86,694.08" fill="#fef8f8" stroke="#111" stroke-width="0.62" stroke-linejoin="round"/>
<polygon points="78.80,694.30 86.05,687.48 84.87,684.93 77.65,692.23" fill="#f8a8ac" stroke="#111" stroke-width="0.62" stroke-linejoin="round"/>
<polygon points="101.56,700.52 109.01,696.17 107.81,694.64 100.38,699.09" fill="#fcdddf" stroke="#111" stroke-width="0.62" stroke-linejoin="round"/>
<polygon points="68.31,696.34 75.36,689.67 74.22,688.58 67.21,695.07" fill="#fbd3d5" stroke="#111" stroke-width="0.62" stroke-linejoin="round"/>
<polygon points="90.70,699.63 98.05,695.55 96.89,692.82 89.55,697.25" fill="#fcd8da" stroke="#111" stroke-width="0.62" stroke-linejoin="round"/>
<polygon points="113.65,704.53 121.10,701.61 119.99,698.65 112.51,702.22" fill="#fef7f7" stroke="#111" stroke-width="0.62" stroke-linejoin="round"/>
<polygon points="79.96,696.74 87.23,690.73 86.05,687.48 78.80,694.30" fill="#f9b7ba" stroke="#111" stroke-width="0.62" stroke-linejoin="round"/>
<polygon points="58.02,696.72 65.01,692.94 63.91,691.78 56.94,695.40" fill="#fef8f8" stroke="#111" stroke-width="0.62" stroke-linejoin="round"/>
<polygon points="102.73,702.08 110.19,697.96 109.01,696.17 101.56,700.52" fill="#fce2e3" stroke="#111" stroke-width="0.62" stroke-linejoin="round"/>
<polygon points="69.42,697.59 76.50,690.73 75.36,689.67 68.31,696.34" fill="#fbd2d4" stroke="#111" stroke-width="0.62" stroke-linejoin="round"/>
<polygon points="91.85,701.45 99.21,697.53 98.05,695.55 90.70,699.63" fill="#fde3e4" stroke="#111" stroke-width="0.62" stroke-linejoin="round"/>
<polygon points="59.10,698.03 66.11,693.98 65.01,692.94 58.02,696.72" fill="#fef7f7" stroke="#111" stroke-width="0.62" stroke-linejoin="round"/>
<polygon points="81.11,699.25 88.39,694.16 87.23,690.73 79.96,696.74" fill="#fac9cc" stroke="#111" stroke-width="0.62" stroke-linejoin="round"/>
<polygon points="103.89,703.79 111.35,700.01 110.19,697.96 102.73,702.08" fill="#fde8e9" stroke="#111" stroke-width="0.62" stroke-linejoin="round"/>
<polygon points="70.53,698.96 77.65,692.23 76.50,690.73 69.42,697.59" fill="#fbd3d5" stroke="#111" stroke-width="0.62" stroke-linejoin="round"/>
<polygon points="93.00,702.93 100.38,699.09 99.21,697.53 91.85,701.45" fill="#fde9ea" stroke="#111" stroke-width="0.62" stroke-linejoin="round"/>
<polygon points="60.18,699.35 67.21,695.07 66.11,693.98 59.10,698.03" fill="#fef5f6" stroke="#111" stroke-width="0.62" stroke-linejoin="round"/>
<polygon points="82.26,701.56 89.55,697.25 88.39,694.16 81.11,699.25" fill="#fcdbdd" stroke="#111" stroke-width="0.62" stroke-linejoin="round"/>
<polygon points="105.05,705.59 112.51,702.22 111.35,700.01 103.89,703.79" fill="#fef1f1" stroke="#111" stroke-width="0.62" stroke-linejoin="round"/>
<polygon points="71.65,700.51 78.80,694.30 77.65,692.23 70.53,698.96" fill="#fcd7d8" stroke="#111" stroke-width="0.62" stroke-linejoin="round"/>
<polygon points="94.16,704.30 101.56,700.52 100.38,699.09 93.00,702.93" fill="#fdecec" stroke="#111" stroke-width="0.62" stroke-linejoin="round"/>
<polygon points="61.26,700.67 68.31,696.34 67.21,695.07 60.18,699.35" fill="#fef5f5" stroke="#111" stroke-width="0.62" stroke-linejoin="round"/>
<polygon points="83.39,703.46 90.70,699.63 89.55,697.25 82.26,701.56" fill="#fde8e9" stroke="#111" stroke-width="0.62" stroke-linejoin="round"/>
<polygon points="106.20,707.44 113.65,704.53 112.51,702.22 105.05,705.59" fill="#fffafa" stroke="#111" stroke-width="0.62" stroke-linejoin="round"/>
<polygon points="72.77,702.16 79.96,696.74 78.80,694.30 71.65,700.51" fill="#fcdedf" stroke="#111" stroke-width="0.62" stroke-linejoin="round"/>
<polygon points="95.31,705.72 102.73,702.08 101.56,700.52 94.16,704.30" fill="#feeeef" stroke="#111" stroke-width="0.62" stroke-linejoin="round"/>
<polygon points="62.34,701.98 69.42,697.59 68.31,696.34 61.26,700.67" fill="#fef5f5" stroke="#111" stroke-width="0.62" stroke-linejoin="round"/>
<polygon points="84.52,705.04 91.85,701.45 90.70,699.63 83.39,703.46" fill="#fef0f0" stroke="#111" stroke-width="0.62" stroke-linejoin="round"/>
<polygon points="73.88,703.83 81.11,699.25 79.96,696.74 72.77,702.16" fill="#fde7e8" stroke="#111" stroke-width="0.62" stroke-linejoin="round"/>
<polygon points="96.46,707.23 103.89,703.79 102.73,702.08 95.31,705.72" fill="#fef2f3" stroke="#111" stroke-width="0.62" stroke-linejoin="round"/>
<polygon points="85.65,706.43 93.00,702.93 91.85,701.45 84.52,705.04" fill="#fef3f4" stroke="#111" stroke-width="0.62" stroke-linejoin="round"/>
<polygon points="63.42,703.30 70.53,698.96 69.42,697.59 62.34,701.98" fill="#fef5f5" stroke="#111" stroke-width="0.62" stroke-linejoin="round"/>
<polygon points="75.00,705.43 82.26,701.56 81.11,699.25 73.88,703.83" fill="#feeff0" stroke="#111" stroke-width="0.62" stroke-linejoin="round"/>
<polygon points="97.60,708.78 105.05,705.59 103.89,703.79 96.46,707.23" fill="#fef7f7" stroke="#111" stroke-width="0.62" stroke-linejoin="round"/>
<polygon points="64.50,704.62 71.65,700.51 70.53,698.96 63.42,703.30" fill="#fef6f6" stroke="#111" stroke-width="0.62" stroke-linejoin="round"/>
<polygon points="86.78,707.75 94.16,704.30 93.00,702.93 85.65,706.43" fill="#fef5f6" stroke="#111" stroke-width="0.62" stroke-linejoin="round"/>
<polygon points="76.11,706.91 83.39,703.46 82.26,701.56 75.00,705.43" fill="#fef5f6" stroke="#111" stroke-width="0.62" stroke-linejoin="round"/>
<polygon points="98.74,710.36 106.20,707.44 105.05,705.59 97.60,708.78" fill="#fffcfc" stroke="#111" stroke-width="0.62" stroke-linejoin="round"/>
<polygon points="65.58,705.93 72.77,702.16 71.65,700.51 64.50,704.62" fill="#fef7f8" stroke="#111" stroke-width="0.62" stroke-linejoin="round"/>
<polygon points="87.91,709.10 95.31,705.72 94.16,704.30 86.78,707.75" fill="#fef7f7" stroke="#111" stroke-width="0.62" stroke-linejoin="round"/>
<polygon points="77.21,708.30 84.52,705.04 83.39,703.46 76.11,706.91" fill="#fef9f9" stroke="#111" stroke-width="0.62" stroke-linejoin="round"/>
<polygon points="66.66,707.25 73.88,703.83 72.77,702.16 65.58,705.93" fill="#fffafa" stroke="#111" stroke-width="0.62" stroke-linejoin="round"/>
<polygon points="89.04,710.47 96.46,707.23 95.31,705.72 87.91,709.10" fill="#fef8f9" stroke="#111" stroke-width="0.62" stroke-linejoin="round"/>
<polygon points="78.32,709.62 85.65,706.43 84.52,705.04 77.21,708.30" fill="#fffbfb" stroke="#111" stroke-width="0.62" stroke-linejoin="round"/>
<polygon points="67.74,708.57 75.00,705.43 73.88,703.83 66.66,707.25" fill="#fffbfc" stroke="#111" stroke-width="0.62" stroke-linejoin="round"/>
<polygon points="90.16,711.87 97.60,708.78 96.46,707.23 89.04,710.47" fill="#fffbfb" stroke="#111" stroke-width="0.62" stroke-linejoin="round"/>
<polygon points="79.42,710.93 86.78,707.75 85.65,706.43 78.32,709.62" fill="#fffbfb" stroke="#111" stroke-width="0.62" stroke-linejoin="round"/>
<polygon points="68.82,709.88 76.11,706.91 75.00,705.43 67.74,708.57" fill="#fffdfd" stroke="#111" stroke-width="0.62" stroke-linejoin="round"/>
<polygon points="91.29,713.27 98.74,710.36 97.60,708.78 90.16,711.87" fill="#fffefe" stroke="#111" stroke-width="0.62" stroke-linejoin="round"/>
<polygon points="80.52,712.23 87.91,709.10 86.78,707.75 79.42,710.93" fill="#fffcfc" stroke="#111" stroke-width="0.62" stroke-linejoin="round"/>
<polygon points="69.90,711.20 77.21,708.30 76.11,706.91 68.82,709.88" fill="#fffefe" stroke="#111" stroke-width="0.62" stroke-linejoin="round"/>
<polygon points="81.63,713.55 89.04,710.47 87.91,709.10 80.52,712.23" fill="#fffdfd" stroke="#111" stroke-width="0.62" stroke-linejoin="round"/>
<polygon points="70.98,712.52 78.32,709.62 77.21,708.30 69.90,711.20" fill="#fffefe" stroke="#111" stroke-width="0.62" stroke-linejoin="round"/>
<polygon points="82.73,714.87 90.16,711.87 89.04,710.47 81.63,713.55" fill="#fffdfe" stroke="#111" stroke-width="0.62" stroke-linejoin="round"/>
<polygon points="72.06,713.83 79.42,710.93 78.32,709.62 70.98,712.52" fill="#fffefe" stroke="#111" stroke-width="0.62" stroke-linejoin="round"/>
<polygon points="83.84,716.19 91.29,713.27 90.16,711.87 82.73,714.87" fill="#fffeff" stroke="#111" stroke-width="0.62" stroke-linejoin="round"/>
<polygon points="73.14,715.15 80.52,712.23 79.42,710.93 72.06,713.83" fill="#fffefe" stroke="#111" stroke-width="0.62" stroke-linejoin="round"/>
<polygon points="74.22,716.47 81.63,713.55 80.52,712.23 73.14,715.15" fill="#ffffff" stroke="#111" stroke-width="0.62" stroke-linejoin="round"/>
<polygon points="75.30,717.79 82.73,714.87 81.63,713.55 74.22,716.47" fill="#ffffff" stroke="#111" stroke-width="0.62" stroke-linejoin="round"/>
<polygon points="76.38,719.10 83.84,716.19 82.73,714.87 75.30,717.79" fill="#ffffff" stroke="#111" stroke-width="0.62" stroke-linejoin="round"/>
<line x1="74.80" y1="753.10" x2="73.80" y2="693.60" stroke="#222" stroke-width="0.7"/>
<line x1="73.80" y1="693.60" x2="37.20" y2="650.50" stroke="#222" stroke-width="0.7"/>
<line x1="73.80" y1="693.60" x2="145.80" y2="664.70" stroke="#222" stroke-width="0.7"/>
<line x1="45.40" y1="404.10" x2="47.20" y2="404.10" stroke="#222" stroke-width="0.5"/>
<text x="44.40" y="405.83" font-size="4.8" text-anchor="end" font-weight="bold" font-style="normal" fill="#111" stroke="#111" stroke-width="0.21">−30</text>
<line x1="44.43" y1="393.87" x2="46.23" y2="393.87" stroke="#222" stroke-width="0.5"/>
<text x="43.43" y="395.59" font-size="4.8" text-anchor="end" font-weight="bold" font-style="normal" fill="#111" stroke="#111" stroke-width="0.21">−20</text>
<line x1="43.47" y1="383.63" x2="45.27" y2="383.63" stroke="#222" stroke-width="0.5"/>
<text x="42.47" y="385.36" font-size="4.8" text-anchor="end" font-weight="bold" font-style="normal" fill="#111" stroke="#111" stroke-width="0.21">−10</text>
<line x1="42.50" y1="373.40" x2="44.30" y2="373.40" stroke="#222" stroke-width="0.5"/>
<text x="41.50" y="375.13" font-size="4.8" text-anchor="end" font-weight="bold" font-style="normal" fill="#111" stroke="#111" stroke-width="0.21">0</text>
<line x1="41.53" y1="363.17" x2="43.33" y2="363.17" stroke="#222" stroke-width="0.5"/>
<text x="40.53" y="364.89" font-size="4.8" text-anchor="end" font-weight="bold" font-style="normal" fill="#111" stroke="#111" stroke-width="0.21">10</text>
<line x1="40.57" y1="352.93" x2="42.37" y2="352.93" stroke="#222" stroke-width="0.5"/>
<text x="39.57" y="354.66" font-size="4.8" text-anchor="end" font-weight="bold" font-style="normal" fill="#111" stroke="#111" stroke-width="0.21">20</text>
<line x1="39.60" y1="342.70" x2="41.40" y2="342.70" stroke="#222" stroke-width="0.5"/>
<text x="38.60" y="344.43" font-size="4.8" text-anchor="end" font-weight="bold" font-style="normal" fill="#111" stroke="#111" stroke-width="0.21">30</text>
<line x1="77.80" y1="444.08" x2="76.60" y2="445.08" stroke="#222" stroke-width="0.5"/>
<text x="74.50" y="453.23" font-size="4.8" text-anchor="middle" font-weight="bold" font-style="normal" fill="#111" stroke="#111" stroke-width="0.21">0</text>
<line x1="72.08" y1="436.61" x2="70.88" y2="437.61" stroke="#222" stroke-width="0.5"/>
<text x="67.40" y="443.83" font-size="4.8" text-anchor="middle" font-weight="bold" font-style="normal" fill="#111" stroke="#111" stroke-width="0.21">4.57</text>
<line x1="66.36" y1="429.14" x2="65.16" y2="430.14" stroke="#222" stroke-width="0.5"/>
<text x="60.70" y="435.73" font-size="4.8" text-anchor="middle" font-weight="bold" font-style="normal" fill="#111" stroke="#111" stroke-width="0.21">13.7</text>
<line x1="60.64" y1="421.66" x2="59.44" y2="422.66" stroke="#222" stroke-width="0.5"/>
<text x="55.30" y="427.43" font-size="4.8" text-anchor="middle" font-weight="bold" font-style="normal" fill="#111" stroke="#111" stroke-width="0.21">41.2</text>
<line x1="54.92" y1="414.19" x2="53.72" y2="415.19" stroke="#222" stroke-width="0.5"/>
<text x="49.90" y="418.93" font-size="4.8" text-anchor="middle" font-weight="bold" font-style="normal" fill="#111" stroke="#111" stroke-width="0.21">123</text>
<line x1="49.20" y1="406.72" x2="48.00" y2="407.72" stroke="#222" stroke-width="0.5"/>
<text x="43.80" y="411.53" font-size="4.8" text-anchor="middle" font-weight="bold" font-style="normal" fill="#111" stroke="#111" stroke-width="0.21">370</text>
<line x1="83.84" y1="445.07" x2="84.54" y2="446.57" stroke="#222" stroke-width="0.5"/>
<text x="86.80" y="453.53" font-size="4.8" text-anchor="middle" font-weight="bold" font-style="normal" fill="#111" stroke="#111" stroke-width="0.21">0</text>
<line x1="112.70" y1="433.45" x2="113.40" y2="434.95" stroke="#222" stroke-width="0.5"/>
<text x="116.30" y="441.53" font-size="4.8" text-anchor="middle" font-weight="bold" font-style="normal" fill="#111" stroke="#111" stroke-width="0.21">110</text>
<line x1="141.56" y1="421.83" x2="142.26" y2="423.33" stroke="#222" stroke-width="0.5"/>
<text x="144.00" y="430.53" font-size="4.8" text-anchor="middle" font-weight="bold" font-style="normal" fill="#111" stroke="#111" stroke-width="0.21">330</text>
<line x1="41.50" y1="711.00" x2="43.30" y2="711.00" stroke="#222" stroke-width="0.5"/>
<text x="40.50" y="712.73" font-size="4.8" text-anchor="end" font-weight="bold" font-style="normal" fill="#111" stroke="#111" stroke-width="0.21">−30</text>
<line x1="40.48" y1="700.92" x2="42.28" y2="700.92" stroke="#222" stroke-width="0.5"/>
<text x="39.48" y="702.64" font-size="4.8" text-anchor="end" font-weight="bold" font-style="normal" fill="#111" stroke="#111" stroke-width="0.21">−20</text>
<line x1="39.47" y1="690.83" x2="41.27" y2="690.83" stroke="#222" stroke-width="0.5"/>
<text x="38.47" y="692.56" font-size="4.8" text-anchor="end" font-weight="bold" font-style="normal" fill="#111" stroke="#111" stroke-width="0.21">−10</text>
<line x1="38.45" y1="680.75" x2="40.25" y2="680.75" stroke="#222" stroke-width="0.5"/>
<text x="37.45" y="682.48" font-size="4.8" text-anchor="end" font-weight="bold" font-style="normal" fill="#111" stroke="#111" stroke-width="0.21">0</text>
<line x1="37.43" y1="670.67" x2="39.23" y2="670.67" stroke="#222" stroke-width="0.5"/>
<text x="36.43" y="672.39" font-size="4.8" text-anchor="end" font-weight="bold" font-style="normal" fill="#111" stroke="#111" stroke-width="0.21">10</text>
<line x1="36.42" y1="660.58" x2="38.22" y2="660.58" stroke="#222" stroke-width="0.5"/>
<text x="35.42" y="662.31" font-size="4.8" text-anchor="end" font-weight="bold" font-style="normal" fill="#111" stroke="#111" stroke-width="0.21">20</text>
<line x1="35.40" y1="650.50" x2="37.20" y2="650.50" stroke="#222" stroke-width="0.5"/>
<text x="34.40" y="652.23" font-size="4.8" text-anchor="end" font-weight="bold" font-style="normal" fill="#111" stroke="#111" stroke-width="0.21">30</text>
<line x1="72.87" y1="750.51" x2="71.67" y2="751.51" stroke="#222" stroke-width="0.5"/>
<text x="69.30" y="759.63" font-size="4.8" text-anchor="middle" font-weight="bold" font-style="normal" fill="#111" stroke="#111" stroke-width="0.21">0</text>
<line x1="68.92" y1="745.24" x2="67.72" y2="746.24" stroke="#222" stroke-width="0.5"/>
<text x="61.70" y="751.53" font-size="4.8" text-anchor="middle" font-weight="bold" font-style="normal" fill="#111" stroke="#111" stroke-width="0.21">4.57</text>
<line x1="64.97" y1="739.96" x2="63.77" y2="740.96" stroke="#222" stroke-width="0.5"/>
<text x="57.70" y="745.63" font-size="4.8" text-anchor="middle" font-weight="bold" font-style="normal" fill="#111" stroke="#111" stroke-width="0.21">13.7</text>
<line x1="61.02" y1="734.69" x2="59.82" y2="735.69" stroke="#222" stroke-width="0.5"/>
<text x="53.70" y="740.23" font-size="4.8" text-anchor="middle" font-weight="bold" font-style="normal" fill="#111" stroke="#111" stroke-width="0.21">41.2</text>
<line x1="57.08" y1="729.41" x2="55.88" y2="730.41" stroke="#222" stroke-width="0.5"/>
<text x="50.20" y="734.53" font-size="4.8" text-anchor="middle" font-weight="bold" font-style="normal" fill="#111" stroke="#111" stroke-width="0.21">123</text>
<line x1="53.13" y1="724.14" x2="51.93" y2="725.14" stroke="#222" stroke-width="0.5"/>
<text x="46.10" y="728.63" font-size="4.8" text-anchor="middle" font-weight="bold" font-style="normal" fill="#111" stroke="#111" stroke-width="0.21">370</text>
<line x1="49.18" y1="718.86" x2="47.98" y2="719.86" stroke="#222" stroke-width="0.5"/>
<text x="42.10" y="722.73" font-size="4.8" text-anchor="middle" font-weight="bold" font-style="normal" fill="#111" stroke="#111" stroke-width="0.21">1,111</text>
<line x1="45.23" y1="713.59" x2="44.03" y2="714.59" stroke="#222" stroke-width="0.5"/>
<text x="38.80" y="718.43" font-size="4.8" text-anchor="middle" font-weight="bold" font-style="normal" fill="#111" stroke="#111" stroke-width="0.21">3,333</text>
<line x1="78.78" y1="751.54" x2="79.48" y2="753.04" stroke="#222" stroke-width="0.5"/>
<text x="81.90" y="759.63" font-size="4.8" text-anchor="middle" font-weight="bold" font-style="normal" fill="#111" stroke="#111" stroke-width="0.21">0</text>
<line x1="107.20" y1="740.40" x2="107.90" y2="741.90" stroke="#222" stroke-width="0.5"/>
<text x="110.20" y="748.03" font-size="4.8" text-anchor="middle" font-weight="bold" font-style="normal" fill="#111" stroke="#111" stroke-width="0.21">110</text>
<line x1="135.62" y1="729.26" x2="136.32" y2="730.76" stroke="#222" stroke-width="0.5"/>
<text x="137.70" y="736.73" font-size="4.8" text-anchor="middle" font-weight="bold" font-style="normal" fill="#111" stroke="#111" stroke-width="0.21">330</text>
<text x="31.04" y="374.60" font-size="5.8" text-anchor="middle" font-weight="normal" font-style="normal" fill="#000" transform="rotate(-90 31.04 374.60)" stroke="#000" stroke-width="0.30">Synergy score</text>
<text x="47.13" y="435.42" font-size="5.7" text-anchor="middle" font-weight="normal" font-style="normal" fill="#000" transform="rotate(53.2 47.13 435.42)" stroke="#000" stroke-width="0.30">Lisaftoclax (nmol/L)</text>
<text x="120.72" y="449.69" font-size="5.7" text-anchor="middle" font-weight="normal" font-style="normal" fill="#000" transform="rotate(-21.4 120.72 449.69)" stroke="#000" stroke-width="0.30">Alrizomadlin (nmol/L)</text>
<text x="25.41" y="680.00" font-size="5.7" text-anchor="middle" font-weight="normal" font-style="normal" fill="#000" transform="rotate(-90 25.41 680.00)" stroke="#000" stroke-width="0.30">Synergy score</text>
<text x="39.52" y="739.41" font-size="5.7" text-anchor="middle" font-weight="normal" font-style="normal" fill="#000" transform="rotate(54 39.52 739.41)" stroke="#000" stroke-width="0.30">Lisaftoclax (nmol/L)</text>
<text x="116.71" y="757.07" font-size="5.75" text-anchor="middle" font-weight="normal" font-style="normal" fill="#000" transform="rotate(-24.2 116.71 757.07)" stroke="#000" stroke-width="0.30">Alrizomadlin (nmol/L)</text>
<text x="106.50" y="296.60" font-size="7.35" text-anchor="middle" font-weight="bold" font-style="normal" fill="#000" stroke="#000" stroke-width="0.21">Loewe synergy score</text>
<text x="106.50" y="306.10" font-size="7.35" text-anchor="middle" font-weight="bold" font-style="normal" fill="#000" stroke="#000" stroke-width="0.21">Block 1 : Alrizomadlin &amp; Lisaftoclax</text>
<text x="106.50" y="315.20" font-size="7.35" text-anchor="middle" stroke="#000" stroke-width="0.25">Mean: 13.66 (<tspan font-style="italic">P</tspan> = 8.41e–02)</text>
<text x="96.50" y="607.60" font-size="7.35" text-anchor="middle" font-weight="bold" font-style="normal" fill="#000" stroke="#000" stroke-width="0.21">Loewe synergy score</text>
<text x="96.50" y="616.60" font-size="7.35" text-anchor="middle" font-weight="bold" font-style="normal" fill="#000" stroke="#000" stroke-width="0.21">Block 1 : Alrizomadlin &amp; Lisaftoclax</text>
<text x="96.50" y="626.10" font-size="7.35" text-anchor="middle" stroke="#000" stroke-width="0.25">Mean: 13.28 (<tspan font-style="italic">P</tspan> = 1.41e–02)</text>
<defs><linearGradient id="cb3" x1="0" y1="0" x2="0" y2="1"><stop offset="0" stop-color="#ed1c24"/><stop offset="0.08" stop-color="#ed1c24"/><stop offset="0.2" stop-color="#f0503f"/><stop offset="0.35" stop-color="#f9b6a4"/><stop offset="0.5" stop-color="#ffffff"/><stop offset="0.65" stop-color="#bfe3bd"/><stop offset="0.8" stop-color="#6cc46b"/><stop offset="0.92" stop-color="#3caf46"/><stop offset="1" stop-color="#3caf46"/></linearGradient></defs>
<rect x="169" y="358" width="10" height="56.5" fill="url(#cb3)"/>
<text x="156.00" y="353.80" font-size="5.2" text-anchor="start" font-weight="normal" font-style="normal" fill="#000" stroke="#000" stroke-width="0.30">Synergy score</text>
<text x="184.00" y="359.73" font-size="4.8" text-anchor="start" font-weight="bold" font-style="normal" fill="#000" stroke="#000" stroke-width="0.21">30</text>
<text x="184.00" y="369.14" font-size="4.8" text-anchor="start" font-weight="bold" font-style="normal" fill="#000" stroke="#000" stroke-width="0.21">20</text>
<text x="184.00" y="378.56" font-size="4.8" text-anchor="start" font-weight="bold" font-style="normal" fill="#000" stroke="#000" stroke-width="0.21">10</text>
<text x="184.00" y="387.98" font-size="4.8" text-anchor="start" font-weight="bold" font-style="normal" fill="#000" stroke="#000" stroke-width="0.21">0</text>
<text x="184.00" y="397.39" font-size="4.8" text-anchor="start" font-weight="bold" font-style="normal" fill="#000" stroke="#000" stroke-width="0.21">−10</text>
<text x="184.00" y="406.81" font-size="4.8" text-anchor="start" font-weight="bold" font-style="normal" fill="#000" stroke="#000" stroke-width="0.21">−20</text>
<text x="184.00" y="416.23" font-size="4.8" text-anchor="start" font-weight="bold" font-style="normal" fill="#000" stroke="#000" stroke-width="0.21">−30</text>
<defs><linearGradient id="cb4" x1="0" y1="0" x2="0" y2="1"><stop offset="0" stop-color="#ed1c24"/><stop offset="0.08" stop-color="#ed1c24"/><stop offset="0.2" stop-color="#f0503f"/><stop offset="0.35" stop-color="#f9b6a4"/><stop offset="0.5" stop-color="#ffffff"/><stop offset="0.65" stop-color="#bfe3bd"/><stop offset="0.8" stop-color="#6cc46b"/><stop offset="0.92" stop-color="#3caf46"/><stop offset="1" stop-color="#3caf46"/></linearGradient></defs>
<rect x="163.3" y="666" width="10" height="55.4" fill="url(#cb4)"/>
<text x="151.00" y="660.60" font-size="5.2" text-anchor="start" font-weight="normal" font-style="normal" fill="#000" stroke="#000" stroke-width="0.30">Synergy score</text>
<text x="178.30" y="667.73" font-size="4.8" text-anchor="start" font-weight="bold" font-style="normal" fill="#000" stroke="#000" stroke-width="0.21">30</text>
<text x="178.30" y="676.96" font-size="4.8" text-anchor="start" font-weight="bold" font-style="normal" fill="#000" stroke="#000" stroke-width="0.21">20</text>
<text x="178.30" y="686.19" font-size="4.8" text-anchor="start" font-weight="bold" font-style="normal" fill="#000" stroke="#000" stroke-width="0.21">10</text>
<text x="178.30" y="695.43" font-size="4.8" text-anchor="start" font-weight="bold" font-style="normal" fill="#000" stroke="#000" stroke-width="0.21">0</text>
<text x="178.30" y="704.66" font-size="4.8" text-anchor="start" font-weight="bold" font-style="normal" fill="#000" stroke="#000" stroke-width="0.21">−10</text>
<text x="178.30" y="713.89" font-size="4.8" text-anchor="start" font-weight="bold" font-style="normal" fill="#000" stroke="#000" stroke-width="0.21">−20</text>
<text x="178.30" y="723.13" font-size="4.8" text-anchor="start" font-weight="bold" font-style="normal" fill="#000" stroke="#000" stroke-width="0.21">−30</text>
</svg>
</body></html>
